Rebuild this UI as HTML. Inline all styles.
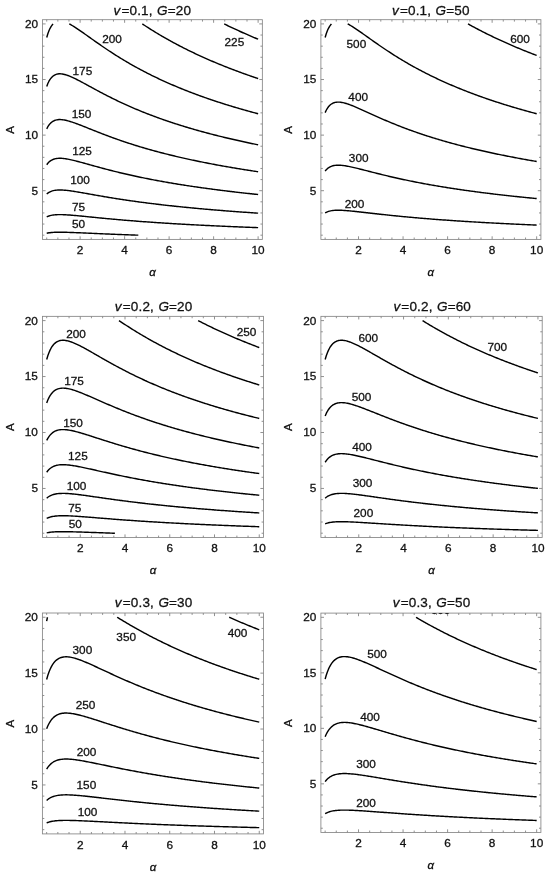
<!DOCTYPE html>
<html><head><meta charset="utf-8"><title>Contour plots</title>
<style>
html,body{margin:0;padding:0;background:#fff;}
body{width:550px;height:875px;overflow:hidden;}
svg{display:block;}
text{font-family:"Liberation Sans",sans-serif;fill:#111;stroke:#111;stroke-width:0.3px;}
.t{font-size:11.8px;}
.l{font-size:11.8px;}
.ax{font-size:11.5px;}
.ti{font-size:13.5px;letter-spacing:0.16px;}
</style></head><body>
<svg width="550" height="875" viewBox="0 0 550 875">
<rect width="550" height="875" fill="#fff"/>
<rect x="42.50" y="19.70" width="219.85" height="219.70" fill="none" stroke="#858585" stroke-width="0.85"/>
<path d="M46.73,239.40v-1.9M46.73,19.70v1.9M57.85,239.40v-1.9M57.85,19.70v1.9M68.98,239.40v-1.9M68.98,19.70v1.9M80.11,239.40v-3.1M80.11,19.70v3.1M91.23,239.40v-1.9M91.23,19.70v1.9M102.36,239.40v-1.9M102.36,19.70v1.9M113.48,239.40v-1.9M113.48,19.70v1.9M124.61,239.40v-3.1M124.61,19.70v3.1M135.74,239.40v-1.9M135.74,19.70v1.9M146.86,239.40v-1.9M146.86,19.70v1.9M157.99,239.40v-1.9M157.99,19.70v1.9M169.11,239.40v-3.1M169.11,19.70v3.1M180.24,239.40v-1.9M180.24,19.70v1.9M191.37,239.40v-1.9M191.37,19.70v1.9M202.49,239.40v-1.9M202.49,19.70v1.9M213.62,239.40v-3.1M213.62,19.70v3.1M224.74,239.40v-1.9M224.74,19.70v1.9M235.87,239.40v-1.9M235.87,19.70v1.9M247.00,239.40v-1.9M247.00,19.70v1.9M258.12,239.40v-3.1M258.12,19.70v3.1M42.50,235.18h1.9M262.35,235.18h-1.9M42.50,224.06h1.9M262.35,224.06h-1.9M42.50,212.94h1.9M262.35,212.94h-1.9M42.50,201.82h1.9M262.35,201.82h-1.9M42.50,190.70h3.1M262.35,190.70h-3.1M42.50,179.58h1.9M262.35,179.58h-1.9M42.50,168.46h1.9M262.35,168.46h-1.9M42.50,157.35h1.9M262.35,157.35h-1.9M42.50,146.23h1.9M262.35,146.23h-1.9M42.50,135.11h3.1M262.35,135.11h-3.1M42.50,123.99h1.9M262.35,123.99h-1.9M42.50,112.87h1.9M262.35,112.87h-1.9M42.50,101.75h1.9M262.35,101.75h-1.9M42.50,90.64h1.9M262.35,90.64h-1.9M42.50,79.52h3.1M262.35,79.52h-3.1M42.50,68.40h1.9M262.35,68.40h-1.9M42.50,57.28h1.9M262.35,57.28h-1.9M42.50,46.16h1.9M262.35,46.16h-1.9M42.50,35.04h1.9M262.35,35.04h-1.9M42.50,23.92h3.1M262.35,23.92h-3.1" stroke="#858585" stroke-width="0.9" fill="none"/>
<text x="80.11" y="254.20" text-anchor="middle" class="t">2</text>
<text x="124.61" y="254.20" text-anchor="middle" class="t">4</text>
<text x="169.11" y="254.20" text-anchor="middle" class="t">6</text>
<text x="213.62" y="254.20" text-anchor="middle" class="t">8</text>
<text x="258.12" y="254.20" text-anchor="middle" class="t">10</text>
<text x="38.00" y="194.60" text-anchor="end" class="t">5</text>
<text x="38.00" y="139.01" text-anchor="end" class="t">10</text>
<text x="38.00" y="83.42" text-anchor="end" class="t">15</text>
<text x="38.00" y="27.82" text-anchor="end" class="t">20</text>
<text x="152.43" y="276.00" text-anchor="middle" class="ax"><tspan font-style="italic">α</tspan></text>
<text transform="translate(13.90,129.85) rotate(-90)" text-anchor="middle" class="ax">A</text>
<text x="113.53" y="14.50" class="ti" style="white-space:pre"><tspan font-style="italic">v</tspan><tspan dx="1.0">=0.1, </tspan><tspan font-style="italic" dx="0.5">G</tspan>=20</text>
<clipPath id="c140495927561024"><rect x="42.50" y="19.70" width="219.85" height="219.70"/></clipPath>
<g fill="none" stroke="#000" stroke-width="1.42" stroke-linecap="butt" stroke-linejoin="round">
<path d="M46.73,233.24 L47.84,233.01 L48.95,232.82 L50.07,232.67 L51.18,232.55 L52.29,232.45 L53.40,232.37 L54.52,232.32 L55.63,232.27 L56.74,232.24 L57.85,232.22 L58.97,232.21 L60.08,232.21 L61.19,232.22 L62.30,232.23 L63.42,232.25 L64.53,232.27 L65.64,232.29 L66.75,232.32 L67.87,232.35 L68.98,232.39 L70.09,232.42 L71.21,232.46 L72.32,232.50 L73.43,232.54 L74.54,232.59 L75.66,232.63 L76.77,232.68 L77.88,232.72 L78.99,232.77 L80.11,232.82 L81.22,232.87 L82.33,232.91 L83.44,232.96 L84.56,233.01 L85.67,233.06 L86.78,233.11 L87.89,233.16 L89.01,233.21 L90.12,233.26 L91.23,233.31 L92.34,233.36 L93.46,233.41 L94.57,233.46 L95.68,233.51 L96.79,233.56 L97.91,233.60 L99.02,233.65 L100.13,233.70 L101.25,233.75 L102.36,233.80 L103.47,233.84 L104.58,233.89 L105.70,233.94 L106.81,233.98 L107.92,234.03 L109.03,234.08 L110.15,234.12 L111.26,234.17 L112.37,234.21 L113.48,234.26 L114.60,234.30 L115.71,234.35 L116.82,234.39 L117.93,234.43 L119.05,234.48 L120.16,234.52 L121.27,234.56 L122.38,234.61 L123.50,234.65 L124.61,234.69 L125.72,234.73 L126.84,234.77 L127.95,234.81 L129.06,234.85 L130.17,234.89 L131.29,234.93 L132.40,234.97 L133.51,235.01 L134.62,235.05 L135.74,235.09 L136.85,235.13 L137.96,235.16 L138.27,235.18"/>
<path d="M46.73,216.92 L47.84,216.40 L48.95,215.98 L50.07,215.64 L51.18,215.36 L52.29,215.15 L53.40,214.98 L54.52,214.85 L55.63,214.75 L56.74,214.68 L57.85,214.64 L58.97,214.62 L60.08,214.61 L61.19,214.62 L62.30,214.65 L63.42,214.69 L64.53,214.73 L65.64,214.79 L66.75,214.85 L67.87,214.93 L68.98,215.00 L70.09,215.08 L71.21,215.17 L72.32,215.26 L73.43,215.36 L74.54,215.45 L75.66,215.55 L76.77,215.66 L77.88,215.76 L78.99,215.87 L80.11,215.97 L81.22,216.08 L82.33,216.19 L83.44,216.30 L84.56,216.41 L85.67,216.52 L86.78,216.63 L87.89,216.74 L89.01,216.86 L90.12,216.97 L91.23,217.08 L92.34,217.19 L93.46,217.30 L94.57,217.41 L95.68,217.52 L96.79,217.63 L97.91,217.74 L99.02,217.85 L100.13,217.96 L101.25,218.07 L102.36,218.18 L103.47,218.28 L104.58,218.39 L105.70,218.49 L106.81,218.60 L107.92,218.70 L109.03,218.81 L110.15,218.91 L111.26,219.01 L112.37,219.11 L113.48,219.21 L114.60,219.31 L115.71,219.41 L116.82,219.51 L117.93,219.61 L119.05,219.71 L120.16,219.80 L121.27,219.90 L122.38,220.00 L123.50,220.09 L124.61,220.18 L125.72,220.28 L126.84,220.37 L127.95,220.46 L129.06,220.55 L130.17,220.64 L131.29,220.73 L132.40,220.82 L133.51,220.91 L134.62,221.00 L135.74,221.08 L136.85,221.17 L137.96,221.25 L139.07,221.34 L140.19,221.42 L141.30,221.51 L142.41,221.59 L143.52,221.67 L144.64,221.75 L145.75,221.83 L146.86,221.91 L147.97,221.99 L149.09,222.07 L150.20,222.15 L151.31,222.23 L152.43,222.31 L153.54,222.38 L154.65,222.46 L155.76,222.53 L156.88,222.61 L157.99,222.68 L159.10,222.76 L160.21,222.83 L161.33,222.90 L162.44,222.97 L163.55,223.05 L164.66,223.12 L165.78,223.19 L166.89,223.26 L168.00,223.33 L169.11,223.40 L170.23,223.47 L171.34,223.53 L172.45,223.60 L173.56,223.67 L174.68,223.73 L175.79,223.80 L176.90,223.87 L178.01,223.93 L179.13,224.00 L180.24,224.06 L181.35,224.12 L182.47,224.19 L183.58,224.25 L184.69,224.31 L185.80,224.37 L186.92,224.44 L188.03,224.50 L189.14,224.56 L190.25,224.62 L191.37,224.68 L192.48,224.74 L193.59,224.80 L194.70,224.86 L195.82,224.91 L196.93,224.97 L198.04,225.03 L199.15,225.09 L200.27,225.14 L201.38,225.20 L202.49,225.26 L203.60,225.31 L204.72,225.37 L205.83,225.42 L206.94,225.48 L208.06,225.53 L209.17,225.58 L210.28,225.64 L211.39,225.69 L212.51,225.74 L213.62,225.80 L214.73,225.85 L215.84,225.90 L216.96,225.95 L218.07,226.00 L219.18,226.05 L220.29,226.10 L221.41,226.16 L222.52,226.21 L223.63,226.25 L224.74,226.30 L225.86,226.35 L226.97,226.40 L228.08,226.45 L229.19,226.50 L230.31,226.55 L231.42,226.59 L232.53,226.64 L233.64,226.69 L234.76,226.73 L235.87,226.78 L236.98,226.83 L238.10,226.87 L239.21,226.92 L240.32,226.96 L241.43,227.01 L242.55,227.05 L243.66,227.10 L244.77,227.14 L245.88,227.19 L247.00,227.23 L248.11,227.27 L249.22,227.32 L250.33,227.36 L251.45,227.40 L252.56,227.45 L253.67,227.49 L254.78,227.53 L255.90,227.57 L257.01,227.61 L258.12,227.66"/>
<path d="M46.73,194.08 L47.84,193.15 L48.95,192.40 L50.07,191.79 L51.18,191.30 L52.29,190.92 L53.40,190.62 L54.52,190.39 L55.63,190.21 L56.74,190.09 L57.85,190.02 L58.97,189.98 L60.08,189.97 L61.19,189.99 L62.30,190.04 L63.42,190.10 L64.53,190.19 L65.64,190.29 L66.75,190.40 L67.87,190.53 L68.98,190.66 L70.09,190.81 L71.21,190.97 L72.32,191.13 L73.43,191.30 L74.54,191.47 L75.66,191.65 L76.77,191.83 L77.88,192.01 L78.99,192.20 L80.11,192.39 L81.22,192.58 L82.33,192.78 L83.44,192.97 L84.56,193.17 L85.67,193.37 L86.78,193.56 L87.89,193.76 L89.01,193.96 L90.12,194.16 L91.23,194.36 L92.34,194.55 L93.46,194.75 L94.57,194.95 L95.68,195.15 L96.79,195.34 L97.91,195.54 L99.02,195.73 L100.13,195.92 L101.25,196.11 L102.36,196.31 L103.47,196.50 L104.58,196.68 L105.70,196.87 L106.81,197.06 L107.92,197.24 L109.03,197.43 L110.15,197.61 L111.26,197.79 L112.37,197.97 L113.48,198.15 L114.60,198.33 L115.71,198.51 L116.82,198.68 L117.93,198.86 L119.05,199.03 L120.16,199.20 L121.27,199.37 L122.38,199.54 L123.50,199.71 L124.61,199.88 L125.72,200.04 L126.84,200.21 L127.95,200.37 L129.06,200.53 L130.17,200.69 L131.29,200.85 L132.40,201.01 L133.51,201.16 L134.62,201.32 L135.74,201.47 L136.85,201.63 L137.96,201.78 L139.07,201.93 L140.19,202.08 L141.30,202.23 L142.41,202.37 L143.52,202.52 L144.64,202.66 L145.75,202.81 L146.86,202.95 L147.97,203.09 L149.09,203.23 L150.20,203.37 L151.31,203.51 L152.43,203.65 L153.54,203.78 L154.65,203.92 L155.76,204.05 L156.88,204.19 L157.99,204.32 L159.10,204.45 L160.21,204.58 L161.33,204.71 L162.44,204.84 L163.55,204.97 L164.66,205.09 L165.78,205.22 L166.89,205.34 L168.00,205.47 L169.11,205.59 L170.23,205.71 L171.34,205.83 L172.45,205.95 L173.56,206.07 L174.68,206.19 L175.79,206.31 L176.90,206.42 L178.01,206.54 L179.13,206.65 L180.24,206.77 L181.35,206.88 L182.47,206.99 L183.58,207.11 L184.69,207.22 L185.80,207.33 L186.92,207.44 L188.03,207.55 L189.14,207.65 L190.25,207.76 L191.37,207.87 L192.48,207.97 L193.59,208.08 L194.70,208.18 L195.82,208.29 L196.93,208.39 L198.04,208.49 L199.15,208.59 L200.27,208.69 L201.38,208.79 L202.49,208.89 L203.60,208.99 L204.72,209.09 L205.83,209.19 L206.94,209.29 L208.06,209.38 L209.17,209.48 L210.28,209.57 L211.39,209.67 L212.51,209.76 L213.62,209.85 L214.73,209.95 L215.84,210.04 L216.96,210.13 L218.07,210.22 L219.18,210.31 L220.29,210.40 L221.41,210.49 L222.52,210.58 L223.63,210.67 L224.74,210.76 L225.86,210.84 L226.97,210.93 L228.08,211.02 L229.19,211.10 L230.31,211.19 L231.42,211.27 L232.53,211.36 L233.64,211.44 L234.76,211.52 L235.87,211.61 L236.98,211.69 L238.10,211.77 L239.21,211.85 L240.32,211.93 L241.43,212.01 L242.55,212.09 L243.66,212.17 L244.77,212.25 L245.88,212.33 L247.00,212.41 L248.11,212.48 L249.22,212.56 L250.33,212.64 L251.45,212.71 L252.56,212.79 L253.67,212.86 L254.78,212.94 L255.90,213.01 L257.01,213.09 L258.12,213.16"/>
<path d="M46.73,164.71 L47.84,163.25 L48.95,162.08 L50.07,161.13 L51.18,160.37 L52.29,159.77 L53.40,159.30 L54.52,158.94 L55.63,158.67 L56.74,158.48 L57.85,158.36 L58.97,158.30 L60.08,158.29 L61.19,158.32 L62.30,158.39 L63.42,158.49 L64.53,158.63 L65.64,158.78 L66.75,158.96 L67.87,159.16 L68.98,159.37 L70.09,159.60 L71.21,159.84 L72.32,160.10 L73.43,160.36 L74.54,160.63 L75.66,160.91 L76.77,161.19 L77.88,161.48 L78.99,161.77 L80.11,162.07 L81.22,162.37 L82.33,162.68 L83.44,162.98 L84.56,163.29 L85.67,163.60 L86.78,163.90 L87.89,164.21 L89.01,164.52 L90.12,164.83 L91.23,165.14 L92.34,165.45 L93.46,165.76 L94.57,166.07 L95.68,166.37 L96.79,166.68 L97.91,166.98 L99.02,167.29 L100.13,167.59 L101.25,167.89 L102.36,168.19 L103.47,168.48 L104.58,168.78 L105.70,169.07 L106.81,169.36 L107.92,169.65 L109.03,169.94 L110.15,170.23 L111.26,170.51 L112.37,170.79 L113.48,171.07 L114.60,171.35 L115.71,171.63 L116.82,171.90 L117.93,172.18 L119.05,172.45 L120.16,172.71 L121.27,172.98 L122.38,173.24 L123.50,173.51 L124.61,173.77 L125.72,174.03 L126.84,174.28 L127.95,174.54 L129.06,174.79 L130.17,175.04 L131.29,175.29 L132.40,175.53 L133.51,175.78 L134.62,176.02 L135.74,176.26 L136.85,176.50 L137.96,176.74 L139.07,176.97 L140.19,177.21 L141.30,177.44 L142.41,177.67 L143.52,177.90 L144.64,178.12 L145.75,178.35 L146.86,178.57 L147.97,178.79 L149.09,179.01 L150.20,179.23 L151.31,179.45 L152.43,179.66 L153.54,179.87 L154.65,180.08 L155.76,180.29 L156.88,180.50 L157.99,180.71 L159.10,180.91 L160.21,181.12 L161.33,181.32 L162.44,181.52 L163.55,181.72 L164.66,181.92 L165.78,182.11 L166.89,182.31 L168.00,182.50 L169.11,182.69 L170.23,182.88 L171.34,183.07 L172.45,183.26 L173.56,183.44 L174.68,183.63 L175.79,183.81 L176.90,184.00 L178.01,184.18 L179.13,184.36 L180.24,184.53 L181.35,184.71 L182.47,184.89 L183.58,185.06 L184.69,185.24 L185.80,185.41 L186.92,185.58 L188.03,185.75 L189.14,185.92 L190.25,186.09 L191.37,186.25 L192.48,186.42 L193.59,186.58 L194.70,186.74 L195.82,186.91 L196.93,187.07 L198.04,187.23 L199.15,187.39 L200.27,187.54 L201.38,187.70 L202.49,187.86 L203.60,188.01 L204.72,188.16 L205.83,188.32 L206.94,188.47 L208.06,188.62 L209.17,188.77 L210.28,188.92 L211.39,189.07 L212.51,189.21 L213.62,189.36 L214.73,189.50 L215.84,189.65 L216.96,189.79 L218.07,189.93 L219.18,190.07 L220.29,190.21 L221.41,190.35 L222.52,190.49 L223.63,190.63 L224.74,190.77 L225.86,190.90 L226.97,191.04 L228.08,191.17 L229.19,191.31 L230.31,191.44 L231.42,191.57 L232.53,191.70 L233.64,191.83 L234.76,191.96 L235.87,192.09 L236.98,192.22 L238.10,192.35 L239.21,192.48 L240.32,192.60 L241.43,192.73 L242.55,192.85 L243.66,192.98 L244.77,193.10 L245.88,193.22 L247.00,193.34 L248.11,193.46 L249.22,193.58 L250.33,193.70 L251.45,193.82 L252.56,193.94 L253.67,194.06 L254.78,194.18 L255.90,194.29 L257.01,194.41 L258.12,194.52"/>
<path d="M46.73,128.81 L47.84,126.72 L48.95,125.02 L50.07,123.66 L51.18,122.57 L52.29,121.70 L53.40,121.02 L54.52,120.50 L55.63,120.11 L56.74,119.84 L57.85,119.67 L58.97,119.58 L60.08,119.56 L61.19,119.61 L62.30,119.71 L63.42,119.86 L64.53,120.05 L65.64,120.28 L66.75,120.54 L67.87,120.82 L68.98,121.13 L70.09,121.46 L71.21,121.81 L72.32,122.17 L73.43,122.55 L74.54,122.94 L75.66,123.34 L76.77,123.75 L77.88,124.16 L78.99,124.59 L80.11,125.01 L81.22,125.45 L82.33,125.88 L83.44,126.32 L84.56,126.77 L85.67,127.21 L86.78,127.65 L87.89,128.10 L89.01,128.55 L90.12,128.99 L91.23,129.44 L92.34,129.88 L93.46,130.33 L94.57,130.77 L95.68,131.21 L96.79,131.65 L97.91,132.09 L99.02,132.52 L100.13,132.96 L101.25,133.39 L102.36,133.82 L103.47,134.25 L104.58,134.67 L105.70,135.10 L106.81,135.52 L107.92,135.93 L109.03,136.35 L110.15,136.76 L111.26,137.17 L112.37,137.58 L113.48,137.98 L114.60,138.38 L115.71,138.78 L116.82,139.17 L117.93,139.56 L119.05,139.95 L120.16,140.34 L121.27,140.72 L122.38,141.10 L123.50,141.48 L124.61,141.86 L125.72,142.23 L126.84,142.60 L127.95,142.96 L129.06,143.33 L130.17,143.69 L131.29,144.04 L132.40,144.40 L133.51,144.75 L134.62,145.10 L135.74,145.45 L136.85,145.79 L137.96,146.13 L139.07,146.47 L140.19,146.81 L141.30,147.14 L142.41,147.47 L143.52,147.80 L144.64,148.13 L145.75,148.45 L146.86,148.77 L147.97,149.09 L149.09,149.41 L150.20,149.72 L151.31,150.03 L152.43,150.34 L153.54,150.65 L154.65,150.95 L155.76,151.25 L156.88,151.55 L157.99,151.85 L159.10,152.15 L160.21,152.44 L161.33,152.73 L162.44,153.02 L163.55,153.31 L164.66,153.59 L165.78,153.87 L166.89,154.15 L168.00,154.43 L169.11,154.71 L170.23,154.98 L171.34,155.25 L172.45,155.52 L173.56,155.79 L174.68,156.06 L175.79,156.32 L176.90,156.58 L178.01,156.85 L179.13,157.10 L180.24,157.36 L181.35,157.62 L182.47,157.87 L183.58,158.12 L184.69,158.37 L185.80,158.62 L186.92,158.87 L188.03,159.11 L189.14,159.35 L190.25,159.59 L191.37,159.83 L192.48,160.07 L193.59,160.31 L194.70,160.54 L195.82,160.78 L196.93,161.01 L198.04,161.24 L199.15,161.47 L200.27,161.69 L201.38,161.92 L202.49,162.14 L203.60,162.37 L204.72,162.59 L205.83,162.81 L206.94,163.03 L208.06,163.24 L209.17,163.46 L210.28,163.67 L211.39,163.88 L212.51,164.10 L213.62,164.31 L214.73,164.52 L215.84,164.72 L216.96,164.93 L218.07,165.13 L219.18,165.34 L220.29,165.54 L221.41,165.74 L222.52,165.94 L223.63,166.14 L224.74,166.34 L225.86,166.53 L226.97,166.73 L228.08,166.92 L229.19,167.11 L230.31,167.31 L231.42,167.50 L232.53,167.68 L233.64,167.87 L234.76,168.06 L235.87,168.25 L236.98,168.43 L238.10,168.61 L239.21,168.80 L240.32,168.98 L241.43,169.16 L242.55,169.34 L243.66,169.52 L244.77,169.69 L245.88,169.87 L247.00,170.05 L248.11,170.22 L249.22,170.39 L250.33,170.57 L251.45,170.74 L252.56,170.91 L253.67,171.08 L254.78,171.25 L255.90,171.41 L257.01,171.58 L258.12,171.75"/>
<path d="M46.73,86.39 L47.84,83.54 L48.95,81.23 L50.07,79.38 L51.18,77.89 L52.29,76.71 L53.40,75.78 L54.52,75.08 L55.63,74.55 L56.74,74.18 L57.85,73.94 L58.97,73.82 L60.08,73.80 L61.19,73.86 L62.30,74.00 L63.42,74.20 L64.53,74.46 L65.64,74.77 L66.75,75.12 L67.87,75.51 L68.98,75.93 L70.09,76.38 L71.21,76.85 L72.32,77.35 L73.43,77.86 L74.54,78.39 L75.66,78.94 L76.77,79.49 L77.88,80.06 L78.99,80.64 L80.11,81.22 L81.22,81.81 L82.33,82.40 L83.44,83.00 L84.56,83.60 L85.67,84.21 L86.78,84.81 L87.89,85.42 L89.01,86.03 L90.12,86.63 L91.23,87.24 L92.34,87.84 L93.46,88.45 L94.57,89.05 L95.68,89.65 L96.79,90.25 L97.91,90.85 L99.02,91.44 L100.13,92.03 L101.25,92.62 L102.36,93.21 L103.47,93.79 L104.58,94.37 L105.70,94.94 L106.81,95.51 L107.92,96.08 L109.03,96.65 L110.15,97.21 L111.26,97.76 L112.37,98.32 L113.48,98.86 L114.60,99.41 L115.71,99.95 L116.82,100.49 L117.93,101.02 L119.05,101.55 L120.16,102.08 L121.27,102.60 L122.38,103.12 L123.50,103.63 L124.61,104.14 L125.72,104.65 L126.84,105.15 L127.95,105.65 L129.06,106.14 L130.17,106.63 L131.29,107.12 L132.40,107.60 L133.51,108.08 L134.62,108.56 L135.74,109.03 L136.85,109.50 L137.96,109.97 L139.07,110.43 L140.19,110.88 L141.30,111.34 L142.41,111.79 L143.52,112.24 L144.64,112.68 L145.75,113.12 L146.86,113.56 L147.97,113.99 L149.09,114.42 L150.20,114.85 L151.31,115.27 L152.43,115.69 L153.54,116.11 L154.65,116.52 L155.76,116.94 L156.88,117.34 L157.99,117.75 L159.10,118.15 L160.21,118.55 L161.33,118.94 L162.44,119.34 L163.55,119.73 L164.66,120.11 L165.78,120.50 L166.89,120.88 L168.00,121.26 L169.11,121.63 L170.23,122.01 L171.34,122.38 L172.45,122.75 L173.56,123.11 L174.68,123.47 L175.79,123.83 L176.90,124.19 L178.01,124.54 L179.13,124.90 L180.24,125.25 L181.35,125.59 L182.47,125.94 L183.58,126.28 L184.69,126.62 L185.80,126.96 L186.92,127.29 L188.03,127.63 L189.14,127.96 L190.25,128.29 L191.37,128.61 L192.48,128.94 L193.59,129.26 L194.70,129.58 L195.82,129.90 L196.93,130.21 L198.04,130.52 L199.15,130.83 L200.27,131.14 L201.38,131.45 L202.49,131.76 L203.60,132.06 L204.72,132.36 L205.83,132.66 L206.94,132.96 L208.06,133.25 L209.17,133.55 L210.28,133.84 L211.39,134.13 L212.51,134.41 L213.62,134.70 L214.73,134.98 L215.84,135.27 L216.96,135.55 L218.07,135.83 L219.18,136.10 L220.29,136.38 L221.41,136.65 L222.52,136.92 L223.63,137.19 L224.74,137.46 L225.86,137.73 L226.97,138.00 L228.08,138.26 L229.19,138.52 L230.31,138.78 L231.42,139.04 L232.53,139.30 L233.64,139.55 L234.76,139.81 L235.87,140.06 L236.98,140.31 L238.10,140.56 L239.21,140.81 L240.32,141.06 L241.43,141.30 L242.55,141.55 L243.66,141.79 L244.77,142.03 L245.88,142.27 L247.00,142.51 L248.11,142.75 L249.22,142.98 L250.33,143.22 L251.45,143.45 L252.56,143.68 L253.67,143.91 L254.78,144.14 L255.90,144.37 L257.01,144.60 L258.12,144.82"/>
<path d="M46.73,37.43 L47.84,33.71 L48.95,30.70 L50.07,28.28 L51.18,26.34 L52.29,24.80 L53.07,23.92"/>
<path d="M69.26,23.92 L70.32,24.49 L71.43,25.11 L72.54,25.76 L73.65,26.44 L74.77,27.14 L75.88,27.85 L76.99,28.58 L78.10,29.32 L79.22,30.08 L80.33,30.84 L81.44,31.61 L82.55,32.39 L83.67,33.17 L84.78,33.96 L85.89,34.75 L87.00,35.54 L88.12,36.33 L89.23,37.12 L90.34,37.91 L91.45,38.71 L92.57,39.50 L93.68,40.29 L94.79,41.07 L95.90,41.86 L97.02,42.64 L98.13,43.42 L99.24,44.19 L100.36,44.96 L101.47,45.73 L102.58,46.49 L103.69,47.25 L104.81,48.01 L105.92,48.76 L107.03,49.50 L108.14,50.25 L109.26,50.98 L110.37,51.71 L111.48,52.44 L112.59,53.16 L113.71,53.88 L114.82,54.59 L115.93,55.29 L117.04,55.99 L118.16,56.69 L119.27,57.38 L120.38,58.07 L121.49,58.75 L122.61,59.42 L123.72,60.09 L124.83,60.76 L125.95,61.42 L127.06,62.07 L128.17,62.72 L129.28,63.37 L130.40,64.01 L131.51,64.64 L132.62,65.27 L133.73,65.90 L134.85,66.52 L135.96,67.14 L137.07,67.75 L138.18,68.35 L139.30,68.96 L140.41,69.55 L141.52,70.14 L142.63,70.73 L143.75,71.32 L144.86,71.89 L145.97,72.47 L147.08,73.04 L148.20,73.60 L149.31,74.16 L150.42,74.72 L151.53,75.27 L152.65,75.82 L153.76,76.37 L154.87,76.91 L155.99,77.44 L157.10,77.97 L158.21,78.50 L159.32,79.03 L160.44,79.55 L161.55,80.06 L162.66,80.57 L163.77,81.08 L164.89,81.59 L166.00,82.09 L167.11,82.59 L168.22,83.08 L169.34,83.57 L170.45,84.06 L171.56,84.54 L172.67,85.02 L173.79,85.50 L174.90,85.97 L176.01,86.44 L177.12,86.90 L178.24,87.37 L179.35,87.83 L180.46,88.28 L181.58,88.73 L182.69,89.18 L183.80,89.63 L184.91,90.07 L186.03,90.52 L187.14,90.95 L188.25,91.39 L189.36,91.82 L190.48,92.25 L191.59,92.67 L192.70,93.09 L193.81,93.51 L194.93,93.93 L196.04,94.35 L197.15,94.76 L198.26,95.17 L199.38,95.57 L200.49,95.97 L201.60,96.38 L202.71,96.77 L203.83,97.17 L204.94,97.56 L206.05,97.95 L207.16,98.34 L208.28,98.72 L209.39,99.11 L210.50,99.49 L211.62,99.86 L212.73,100.24 L213.84,100.61 L214.95,100.98 L216.07,101.35 L217.18,101.72 L218.29,102.08 L219.40,102.44 L220.52,102.80 L221.63,103.16 L222.74,103.51 L223.85,103.87 L224.97,104.22 L226.08,104.57 L227.19,104.91 L228.30,105.26 L229.42,105.60 L230.53,105.94 L231.64,106.28 L232.75,106.61 L233.87,106.95 L234.98,107.28 L236.09,107.61 L237.21,107.94 L238.32,108.26 L239.43,108.59 L240.54,108.91 L241.66,109.23 L242.77,109.55 L243.88,109.86 L244.99,110.18 L246.11,110.49 L247.22,110.80 L248.33,111.11 L249.44,111.42 L250.56,111.73 L251.67,112.03 L252.78,112.33 L253.89,112.63 L255.01,112.93 L256.12,113.23 L257.23,113.53 L258.12,113.76"/>
<path d="M142.37,23.92 L143.30,24.54 L144.41,25.28 L145.53,26.01 L146.64,26.73 L147.75,27.45 L148.86,28.16 L149.98,28.87 L151.09,29.57 L152.20,30.26 L153.32,30.95 L154.43,31.64 L155.54,32.32 L156.65,33.00 L157.77,33.67 L158.88,34.33 L159.99,34.99 L161.10,35.65 L162.22,36.30 L163.33,36.94 L164.44,37.58 L165.55,38.22 L166.67,38.85 L167.78,39.48 L168.89,40.10 L170.00,40.72 L171.12,41.33 L172.23,41.94 L173.34,42.54 L174.45,43.14 L175.57,43.74 L176.68,44.33 L177.79,44.92 L178.90,45.50 L180.02,46.08 L181.13,46.65 L182.24,47.23 L183.36,47.79 L184.47,48.35 L185.58,48.91 L186.69,49.47 L187.81,50.02 L188.92,50.57 L190.03,51.11 L191.14,51.65 L192.26,52.19 L193.37,52.72 L194.48,53.25 L195.59,53.78 L196.71,54.30 L197.82,54.82 L198.93,55.33 L200.04,55.84 L201.16,56.35 L202.27,56.86 L203.38,57.36 L204.49,57.86 L205.61,58.35 L206.72,58.84 L207.83,59.33 L208.95,59.82 L210.06,60.30 L211.17,60.78 L212.28,61.25 L213.40,61.73 L214.51,62.20 L215.62,62.67 L216.73,63.13 L217.85,63.59 L218.96,64.05 L220.07,64.51 L221.18,64.96 L222.30,65.41 L223.41,65.86 L224.52,66.30 L225.63,66.74 L226.75,67.18 L227.86,67.62 L228.97,68.05 L230.08,68.48 L231.20,68.91 L232.31,69.34 L233.42,69.76 L234.53,70.18 L235.65,70.60 L236.76,71.02 L237.87,71.43 L238.99,71.84 L240.10,72.25 L241.21,72.66 L242.32,73.06 L243.44,73.46 L244.55,73.86 L245.66,74.26 L246.77,74.66 L247.89,75.05 L249.00,75.44 L250.11,75.83 L251.22,76.21 L252.34,76.60 L253.45,76.98 L254.56,77.36 L255.67,77.74 L256.79,78.11 L257.90,78.49 L258.12,78.56"/>
<path d="M224.21,23.92 L225.19,24.41 L226.30,24.95 L227.41,25.49 L228.53,26.03 L229.64,26.56 L230.75,27.09 L231.86,27.62 L232.98,28.15 L234.09,28.67 L235.20,29.18 L236.32,29.70 L237.43,30.21 L238.54,30.72 L239.65,31.23 L240.77,31.73 L241.88,32.23 L242.99,32.73 L244.10,33.22 L245.22,33.71 L246.33,34.20 L247.44,34.69 L248.55,35.17 L249.67,35.65 L250.78,36.13 L251.89,36.60 L253.00,37.08 L254.12,37.55 L255.23,38.01 L256.34,38.48 L257.45,38.94 L258.12,39.21"/>
</g>
<g clip-path="url(#c140495927561024)">
<text x="112.00" y="42.90" text-anchor="middle" class="l">200</text>
<text x="82.40" y="75.20" text-anchor="middle" class="l">175</text>
<text x="81.60" y="118.10" text-anchor="middle" class="l">150</text>
<text x="82.00" y="154.70" text-anchor="middle" class="l">125</text>
<text x="80.00" y="183.70" text-anchor="middle" class="l">100</text>
<text x="78.60" y="210.80" text-anchor="middle" class="l">75</text>
<text x="78.60" y="227.70" text-anchor="middle" class="l">50</text>
<text x="234.40" y="46.30" text-anchor="middle" class="l">225</text>
</g>
<rect x="320.90" y="19.70" width="220.00" height="219.70" fill="none" stroke="#858585" stroke-width="0.85"/>
<path d="M325.13,239.40v-1.9M325.13,19.70v1.9M336.26,239.40v-1.9M336.26,19.70v1.9M347.40,239.40v-1.9M347.40,19.70v1.9M358.53,239.40v-3.1M358.53,19.70v3.1M369.67,239.40v-1.9M369.67,19.70v1.9M380.80,239.40v-1.9M380.80,19.70v1.9M391.93,239.40v-1.9M391.93,19.70v1.9M403.07,239.40v-3.1M403.07,19.70v3.1M414.20,239.40v-1.9M414.20,19.70v1.9M425.33,239.40v-1.9M425.33,19.70v1.9M436.47,239.40v-1.9M436.47,19.70v1.9M447.60,239.40v-3.1M447.60,19.70v3.1M458.73,239.40v-1.9M458.73,19.70v1.9M469.87,239.40v-1.9M469.87,19.70v1.9M481.00,239.40v-1.9M481.00,19.70v1.9M492.13,239.40v-3.1M492.13,19.70v3.1M503.27,239.40v-1.9M503.27,19.70v1.9M514.40,239.40v-1.9M514.40,19.70v1.9M525.54,239.40v-1.9M525.54,19.70v1.9M536.67,239.40v-3.1M536.67,19.70v3.1M320.90,235.18h1.9M540.90,235.18h-1.9M320.90,224.06h1.9M540.90,224.06h-1.9M320.90,212.94h1.9M540.90,212.94h-1.9M320.90,201.82h1.9M540.90,201.82h-1.9M320.90,190.70h3.1M540.90,190.70h-3.1M320.90,179.58h1.9M540.90,179.58h-1.9M320.90,168.46h1.9M540.90,168.46h-1.9M320.90,157.35h1.9M540.90,157.35h-1.9M320.90,146.23h1.9M540.90,146.23h-1.9M320.90,135.11h3.1M540.90,135.11h-3.1M320.90,123.99h1.9M540.90,123.99h-1.9M320.90,112.87h1.9M540.90,112.87h-1.9M320.90,101.75h1.9M540.90,101.75h-1.9M320.90,90.64h1.9M540.90,90.64h-1.9M320.90,79.52h3.1M540.90,79.52h-3.1M320.90,68.40h1.9M540.90,68.40h-1.9M320.90,57.28h1.9M540.90,57.28h-1.9M320.90,46.16h1.9M540.90,46.16h-1.9M320.90,35.04h1.9M540.90,35.04h-1.9M320.90,23.92h3.1M540.90,23.92h-3.1" stroke="#858585" stroke-width="0.9" fill="none"/>
<text x="358.53" y="254.20" text-anchor="middle" class="t">2</text>
<text x="403.07" y="254.20" text-anchor="middle" class="t">4</text>
<text x="447.60" y="254.20" text-anchor="middle" class="t">6</text>
<text x="492.13" y="254.20" text-anchor="middle" class="t">8</text>
<text x="536.67" y="254.20" text-anchor="middle" class="t">10</text>
<text x="316.40" y="194.60" text-anchor="end" class="t">5</text>
<text x="316.40" y="139.01" text-anchor="end" class="t">10</text>
<text x="316.40" y="83.42" text-anchor="end" class="t">15</text>
<text x="316.40" y="27.82" text-anchor="end" class="t">20</text>
<text x="430.90" y="276.00" text-anchor="middle" class="ax"><tspan font-style="italic">α</tspan></text>
<text transform="translate(292.30,129.85) rotate(-90)" text-anchor="middle" class="ax">A</text>
<text x="392.00" y="14.50" class="ti" style="white-space:pre"><tspan font-style="italic">v</tspan><tspan dx="1.0">=0.1, </tspan><tspan font-style="italic" dx="0.5">G</tspan>=50</text>
<clipPath id="c140495922607680"><rect x="320.90" y="19.70" width="220.00" height="219.70"/></clipPath>
<g fill="none" stroke="#000" stroke-width="1.42" stroke-linecap="butt" stroke-linejoin="round">
<path d="M325.13,212.88 L326.24,212.28 L327.36,211.80 L328.47,211.41 L329.58,211.10 L330.70,210.85 L331.81,210.66 L332.92,210.51 L334.04,210.40 L335.15,210.33 L336.26,210.28 L337.38,210.25 L338.49,210.25 L339.60,210.26 L340.72,210.29 L341.83,210.33 L342.94,210.38 L344.06,210.45 L345.17,210.52 L346.28,210.60 L347.40,210.69 L348.51,210.79 L349.62,210.88 L350.74,210.99 L351.85,211.10 L352.96,211.21 L354.08,211.32 L355.19,211.44 L356.30,211.55 L357.42,211.67 L358.53,211.80 L359.64,211.92 L360.76,212.04 L361.87,212.17 L362.99,212.29 L364.10,212.42 L365.21,212.55 L366.33,212.67 L367.44,212.80 L368.55,212.93 L369.67,213.05 L370.78,213.18 L371.89,213.31 L373.01,213.43 L374.12,213.56 L375.23,213.68 L376.35,213.81 L377.46,213.93 L378.57,214.06 L379.69,214.18 L380.80,214.30 L381.91,214.42 L383.03,214.54 L384.14,214.66 L385.25,214.78 L386.37,214.90 L387.48,215.02 L388.59,215.14 L389.71,215.25 L390.82,215.37 L391.93,215.48 L393.05,215.60 L394.16,215.71 L395.27,215.82 L396.39,215.93 L397.50,216.05 L398.61,216.16 L399.73,216.26 L400.84,216.37 L401.95,216.48 L403.07,216.59 L404.18,216.69 L405.29,216.80 L406.41,216.90 L407.52,217.00 L408.63,217.11 L409.75,217.21 L410.86,217.31 L411.97,217.41 L413.09,217.51 L414.20,217.61 L415.31,217.71 L416.43,217.80 L417.54,217.90 L418.65,218.00 L419.77,218.09 L420.88,218.18 L421.99,218.28 L423.11,218.37 L424.22,218.46 L425.33,218.55 L426.45,218.64 L427.56,218.73 L428.67,218.82 L429.79,218.91 L430.90,219.00 L432.01,219.09 L433.13,219.17 L434.24,219.26 L435.35,219.35 L436.47,219.43 L437.58,219.51 L438.69,219.60 L439.81,219.68 L440.92,219.76 L442.03,219.84 L443.15,219.92 L444.26,220.00 L445.37,220.08 L446.49,220.16 L447.60,220.24 L448.71,220.32 L449.83,220.40 L450.94,220.47 L452.05,220.55 L453.17,220.63 L454.28,220.70 L455.39,220.78 L456.51,220.85 L457.62,220.92 L458.73,221.00 L459.85,221.07 L460.96,221.14 L462.07,221.21 L463.19,221.28 L464.30,221.35 L465.41,221.42 L466.53,221.49 L467.64,221.56 L468.75,221.63 L469.87,221.70 L470.98,221.77 L472.09,221.84 L473.21,221.90 L474.32,221.97 L475.43,222.03 L476.55,222.10 L477.66,222.16 L478.77,222.23 L479.89,222.29 L481.00,222.36 L482.11,222.42 L483.23,222.48 L484.34,222.55 L485.45,222.61 L486.57,222.67 L487.68,222.73 L488.79,222.79 L489.91,222.85 L491.02,222.91 L492.13,222.97 L493.25,223.03 L494.36,223.09 L495.47,223.15 L496.59,223.21 L497.70,223.27 L498.81,223.32 L499.93,223.38 L501.04,223.44 L502.16,223.49 L503.27,223.55 L504.38,223.61 L505.50,223.66 L506.61,223.72 L507.72,223.77 L508.84,223.83 L509.95,223.88 L511.06,223.93 L512.18,223.99 L513.29,224.04 L514.40,224.09 L515.52,224.15 L516.63,224.20 L517.74,224.25 L518.86,224.30 L519.97,224.35 L521.08,224.40 L522.20,224.45 L523.31,224.51 L524.42,224.56 L525.54,224.61 L526.65,224.65 L527.76,224.70 L528.88,224.75 L529.99,224.80 L531.10,224.85 L532.22,224.90 L533.33,224.95 L534.44,224.99 L535.56,225.04 L536.67,225.09"/>
<path d="M325.13,171.10 L326.24,169.76 L327.36,168.68 L328.47,167.81 L329.58,167.11 L330.70,166.55 L331.81,166.12 L332.92,165.79 L334.04,165.54 L335.15,165.36 L336.26,165.25 L337.38,165.20 L338.49,165.19 L339.60,165.22 L340.72,165.28 L341.83,165.38 L342.94,165.50 L344.06,165.64 L345.17,165.81 L346.28,165.99 L347.40,166.19 L348.51,166.40 L349.62,166.62 L350.74,166.86 L351.85,167.10 L352.96,167.35 L354.08,167.60 L355.19,167.86 L356.30,168.13 L357.42,168.40 L358.53,168.68 L359.64,168.95 L360.76,169.23 L361.87,169.51 L362.99,169.80 L364.10,170.08 L365.21,170.36 L366.33,170.65 L367.44,170.93 L368.55,171.22 L369.67,171.51 L370.78,171.79 L371.89,172.07 L373.01,172.36 L374.12,172.64 L375.23,172.92 L376.35,173.20 L377.46,173.48 L378.57,173.76 L379.69,174.04 L380.80,174.31 L381.91,174.58 L383.03,174.86 L384.14,175.13 L385.25,175.40 L386.37,175.66 L387.48,175.93 L388.59,176.19 L389.71,176.45 L390.82,176.71 L391.93,176.97 L393.05,177.23 L394.16,177.48 L395.27,177.74 L396.39,177.99 L397.50,178.24 L398.61,178.48 L399.73,178.73 L400.84,178.97 L401.95,179.21 L403.07,179.45 L404.18,179.69 L405.29,179.93 L406.41,180.16 L407.52,180.39 L408.63,180.63 L409.75,180.85 L410.86,181.08 L411.97,181.31 L413.09,181.53 L414.20,181.75 L415.31,181.97 L416.43,182.19 L417.54,182.41 L418.65,182.62 L419.77,182.84 L420.88,183.05 L421.99,183.26 L423.11,183.47 L424.22,183.68 L425.33,183.88 L426.45,184.08 L427.56,184.29 L428.67,184.49 L429.79,184.69 L430.90,184.88 L432.01,185.08 L433.13,185.28 L434.24,185.47 L435.35,185.66 L436.47,185.85 L437.58,186.04 L438.69,186.23 L439.81,186.41 L440.92,186.60 L442.03,186.78 L443.15,186.96 L444.26,187.14 L445.37,187.32 L446.49,187.50 L447.60,187.68 L448.71,187.85 L449.83,188.03 L450.94,188.20 L452.05,188.37 L453.17,188.54 L454.28,188.71 L455.39,188.88 L456.51,189.05 L457.62,189.21 L458.73,189.38 L459.85,189.54 L460.96,189.70 L462.07,189.86 L463.19,190.02 L464.30,190.18 L465.41,190.34 L466.53,190.50 L467.64,190.65 L468.75,190.81 L469.87,190.96 L470.98,191.11 L472.09,191.26 L473.21,191.41 L474.32,191.56 L475.43,191.71 L476.55,191.86 L477.66,192.00 L478.77,192.15 L479.89,192.29 L481.00,192.44 L482.11,192.58 L483.23,192.72 L484.34,192.86 L485.45,193.00 L486.57,193.14 L487.68,193.28 L488.79,193.42 L489.91,193.55 L491.02,193.69 L492.13,193.82 L493.25,193.96 L494.36,194.09 L495.47,194.22 L496.59,194.35 L497.70,194.48 L498.81,194.61 L499.93,194.74 L501.04,194.87 L502.16,194.99 L503.27,195.12 L504.38,195.25 L505.50,195.37 L506.61,195.50 L507.72,195.62 L508.84,195.74 L509.95,195.86 L511.06,195.98 L512.18,196.10 L513.29,196.22 L514.40,196.34 L515.52,196.46 L516.63,196.58 L517.74,196.70 L518.86,196.81 L519.97,196.93 L521.08,197.04 L522.20,197.16 L523.31,197.27 L524.42,197.38 L525.54,197.49 L526.65,197.61 L527.76,197.72 L528.88,197.83 L529.99,197.94 L531.10,198.05 L532.22,198.15 L533.33,198.26 L534.44,198.37 L535.56,198.48 L536.67,198.58"/>
<path d="M325.13,112.62 L326.24,110.24 L327.36,108.32 L328.47,106.77 L329.58,105.52 L330.70,104.54 L331.81,103.76 L332.92,103.17 L334.04,102.73 L335.15,102.42 L336.26,102.22 L337.38,102.12 L338.49,102.10 L339.60,102.16 L340.72,102.27 L341.83,102.44 L342.94,102.66 L344.06,102.92 L345.17,103.21 L346.28,103.53 L347.40,103.88 L348.51,104.26 L349.62,104.66 L350.74,105.07 L351.85,105.50 L352.96,105.94 L354.08,106.40 L355.19,106.86 L356.30,107.34 L357.42,107.82 L358.53,108.31 L359.64,108.80 L360.76,109.29 L361.87,109.79 L362.99,110.30 L364.10,110.80 L365.21,111.31 L366.33,111.81 L367.44,112.32 L368.55,112.83 L369.67,113.34 L370.78,113.84 L371.89,114.35 L373.01,114.85 L374.12,115.35 L375.23,115.85 L376.35,116.35 L377.46,116.85 L378.57,117.34 L379.69,117.84 L380.80,118.32 L381.91,118.81 L383.03,119.29 L384.14,119.78 L385.25,120.25 L386.37,120.73 L387.48,121.20 L388.59,121.67 L389.71,122.13 L390.82,122.60 L391.93,123.06 L393.05,123.51 L394.16,123.96 L395.27,124.41 L396.39,124.86 L397.50,125.30 L398.61,125.74 L399.73,126.18 L400.84,126.61 L401.95,127.04 L403.07,127.47 L404.18,127.89 L405.29,128.31 L406.41,128.73 L407.52,129.14 L408.63,129.55 L409.75,129.96 L410.86,130.36 L411.97,130.76 L413.09,131.16 L414.20,131.55 L415.31,131.95 L416.43,132.33 L417.54,132.72 L418.65,133.10 L419.77,133.48 L420.88,133.86 L421.99,134.23 L423.11,134.60 L424.22,134.97 L425.33,135.34 L426.45,135.70 L427.56,136.06 L428.67,136.42 L429.79,136.77 L430.90,137.12 L432.01,137.47 L433.13,137.82 L434.24,138.16 L435.35,138.50 L436.47,138.84 L437.58,139.18 L438.69,139.51 L439.81,139.84 L440.92,140.17 L442.03,140.49 L443.15,140.82 L444.26,141.14 L445.37,141.46 L446.49,141.77 L447.60,142.09 L448.71,142.40 L449.83,142.71 L450.94,143.02 L452.05,143.32 L453.17,143.63 L454.28,143.93 L455.39,144.22 L456.51,144.52 L457.62,144.82 L458.73,145.11 L459.85,145.40 L460.96,145.69 L462.07,145.97 L463.19,146.26 L464.30,146.54 L465.41,146.82 L466.53,147.10 L467.64,147.37 L468.75,147.65 L469.87,147.92 L470.98,148.19 L472.09,148.46 L473.21,148.73 L474.32,148.99 L475.43,149.26 L476.55,149.52 L477.66,149.78 L478.77,150.04 L479.89,150.29 L481.00,150.55 L482.11,150.80 L483.23,151.05 L484.34,151.30 L485.45,151.55 L486.57,151.80 L487.68,152.05 L488.79,152.29 L489.91,152.53 L491.02,152.77 L492.13,153.01 L493.25,153.25 L494.36,153.48 L495.47,153.72 L496.59,153.95 L497.70,154.18 L498.81,154.41 L499.93,154.64 L501.04,154.87 L502.16,155.10 L503.27,155.32 L504.38,155.54 L505.50,155.76 L506.61,155.99 L507.72,156.20 L508.84,156.42 L509.95,156.64 L511.06,156.85 L512.18,157.07 L513.29,157.28 L514.40,157.49 L515.52,157.70 L516.63,157.91 L517.74,158.12 L518.86,158.33 L519.97,158.53 L521.08,158.74 L522.20,158.94 L523.31,159.14 L524.42,159.34 L525.54,159.54 L526.65,159.74 L527.76,159.94 L528.88,160.13 L529.99,160.33 L531.10,160.52 L532.22,160.71 L533.33,160.91 L534.44,161.10 L535.56,161.29 L536.67,161.47"/>
<path d="M325.13,37.43 L326.24,33.71 L327.36,30.70 L328.47,28.28 L329.58,26.34 L330.70,24.80 L331.47,23.92"/>
<path d="M347.68,23.92 L348.73,24.49 L349.85,25.11 L350.96,25.76 L352.07,26.44 L353.19,27.14 L354.30,27.85 L355.41,28.58 L356.53,29.32 L357.64,30.08 L358.75,30.84 L359.87,31.61 L360.98,32.39 L362.09,33.17 L363.21,33.96 L364.32,34.75 L365.43,35.54 L366.55,36.33 L367.66,37.12 L368.77,37.91 L369.89,38.71 L371.00,39.50 L372.11,40.29 L373.23,41.07 L374.34,41.86 L375.45,42.64 L376.57,43.42 L377.68,44.19 L378.79,44.96 L379.91,45.73 L381.02,46.49 L382.13,47.25 L383.25,48.01 L384.36,48.76 L385.47,49.50 L386.59,50.25 L387.70,50.98 L388.81,51.71 L389.93,52.44 L391.04,53.16 L392.16,53.88 L393.27,54.59 L394.38,55.29 L395.50,55.99 L396.61,56.69 L397.72,57.38 L398.84,58.07 L399.95,58.75 L401.06,59.42 L402.18,60.09 L403.29,60.76 L404.40,61.42 L405.52,62.07 L406.63,62.72 L407.74,63.37 L408.86,64.01 L409.97,64.64 L411.08,65.27 L412.20,65.90 L413.31,66.52 L414.42,67.14 L415.54,67.75 L416.65,68.35 L417.76,68.96 L418.88,69.55 L419.99,70.14 L421.10,70.73 L422.22,71.32 L423.33,71.89 L424.44,72.47 L425.56,73.04 L426.67,73.60 L427.78,74.16 L428.90,74.72 L430.01,75.27 L431.12,75.82 L432.24,76.37 L433.35,76.91 L434.46,77.44 L435.58,77.97 L436.69,78.50 L437.80,79.03 L438.92,79.55 L440.03,80.06 L441.14,80.57 L442.26,81.08 L443.37,81.59 L444.48,82.09 L445.60,82.59 L446.71,83.08 L447.82,83.57 L448.94,84.06 L450.05,84.54 L451.16,85.02 L452.28,85.50 L453.39,85.97 L454.50,86.44 L455.62,86.90 L456.73,87.37 L457.84,87.83 L458.96,88.28 L460.07,88.73 L461.18,89.18 L462.30,89.63 L463.41,90.07 L464.52,90.52 L465.64,90.95 L466.75,91.39 L467.86,91.82 L468.98,92.25 L470.09,92.67 L471.20,93.09 L472.32,93.51 L473.43,93.93 L474.54,94.35 L475.66,94.76 L476.77,95.17 L477.88,95.57 L479.00,95.97 L480.11,96.38 L481.22,96.77 L482.34,97.17 L483.45,97.56 L484.56,97.95 L485.68,98.34 L486.79,98.72 L487.90,99.11 L489.02,99.49 L490.13,99.86 L491.24,100.24 L492.36,100.61 L493.47,100.98 L494.58,101.35 L495.70,101.72 L496.81,102.08 L497.92,102.44 L499.04,102.80 L500.15,103.16 L501.26,103.51 L502.38,103.87 L503.49,104.22 L504.60,104.57 L505.72,104.91 L506.83,105.26 L507.94,105.60 L509.06,105.94 L510.17,106.28 L511.28,106.61 L512.40,106.95 L513.51,107.28 L514.62,107.61 L515.74,107.94 L516.85,108.26 L517.96,108.59 L519.08,108.91 L520.19,109.23 L521.30,109.55 L522.42,109.86 L523.53,110.18 L524.64,110.49 L525.76,110.80 L526.87,111.11 L527.99,111.42 L529.10,111.73 L530.21,112.03 L531.33,112.33 L532.44,112.63 L533.55,112.93 L534.67,113.23 L535.78,113.53 L536.67,113.76"/>
<path d="M468.00,23.92 L468.98,24.47 L470.09,25.08 L471.20,25.69 L472.32,26.29 L473.43,26.89 L474.54,27.49 L475.66,28.08 L476.77,28.67 L477.88,29.25 L479.00,29.83 L480.11,30.41 L481.22,30.98 L482.34,31.55 L483.45,32.12 L484.56,32.68 L485.68,33.24 L486.79,33.79 L487.90,34.34 L489.02,34.89 L490.13,35.44 L491.24,35.98 L492.36,36.51 L493.47,37.05 L494.58,37.58 L495.70,38.10 L496.81,38.63 L497.92,39.15 L499.04,39.67 L500.15,40.18 L501.26,40.69 L502.38,41.20 L503.49,41.70 L504.60,42.21 L505.72,42.70 L506.83,43.20 L507.94,43.69 L509.06,44.18 L510.17,44.67 L511.28,45.15 L512.40,45.63 L513.51,46.11 L514.62,46.59 L515.74,47.06 L516.85,47.53 L517.96,47.99 L519.08,48.46 L520.19,48.92 L521.30,49.38 L522.42,49.83 L523.53,50.29 L524.64,50.74 L525.76,51.19 L526.87,51.63 L527.99,52.08 L529.10,52.52 L530.21,52.96 L531.33,53.39 L532.44,53.82 L533.55,54.26 L534.67,54.68 L535.78,55.11 L536.67,55.45"/>
</g>
<g clip-path="url(#c140495922607680)">
<text x="356.40" y="48.10" text-anchor="middle" class="l">500</text>
<text x="358.20" y="101.40" text-anchor="middle" class="l">400</text>
<text x="358.70" y="161.70" text-anchor="middle" class="l">300</text>
<text x="354.60" y="207.70" text-anchor="middle" class="l">200</text>
<text x="520.00" y="42.60" text-anchor="middle" class="l">600</text>
</g>
<rect x="42.45" y="316.35" width="221.05" height="221.15" fill="none" stroke="#858585" stroke-width="0.85"/>
<path d="M46.70,537.50v-1.9M46.70,316.35v1.9M57.89,537.50v-1.9M57.89,316.35v1.9M69.07,537.50v-1.9M69.07,316.35v1.9M80.26,537.50v-3.1M80.26,316.35v3.1M91.45,537.50v-1.9M91.45,316.35v1.9M102.63,537.50v-1.9M102.63,316.35v1.9M113.82,537.50v-1.9M113.82,316.35v1.9M125.01,537.50v-3.1M125.01,316.35v3.1M136.19,537.50v-1.9M136.19,316.35v1.9M147.38,537.50v-1.9M147.38,316.35v1.9M158.57,537.50v-1.9M158.57,316.35v1.9M169.76,537.50v-3.1M169.76,316.35v3.1M180.94,537.50v-1.9M180.94,316.35v1.9M192.13,537.50v-1.9M192.13,316.35v1.9M203.32,537.50v-1.9M203.32,316.35v1.9M214.50,537.50v-3.1M214.50,316.35v3.1M225.69,537.50v-1.9M225.69,316.35v1.9M236.88,537.50v-1.9M236.88,316.35v1.9M248.06,537.50v-1.9M248.06,316.35v1.9M259.25,537.50v-3.1M259.25,316.35v3.1M42.45,533.25h1.9M263.50,533.25h-1.9M42.45,522.06h1.9M263.50,522.06h-1.9M42.45,510.86h1.9M263.50,510.86h-1.9M42.45,499.67h1.9M263.50,499.67h-1.9M42.45,488.48h3.1M263.50,488.48h-3.1M42.45,477.29h1.9M263.50,477.29h-1.9M42.45,466.10h1.9M263.50,466.10h-1.9M42.45,454.90h1.9M263.50,454.90h-1.9M42.45,443.71h1.9M263.50,443.71h-1.9M42.45,432.52h3.1M263.50,432.52h-3.1M42.45,421.33h1.9M263.50,421.33h-1.9M42.45,410.14h1.9M263.50,410.14h-1.9M42.45,398.95h1.9M263.50,398.95h-1.9M42.45,387.75h1.9M263.50,387.75h-1.9M42.45,376.56h3.1M263.50,376.56h-3.1M42.45,365.37h1.9M263.50,365.37h-1.9M42.45,354.18h1.9M263.50,354.18h-1.9M42.45,342.99h1.9M263.50,342.99h-1.9M42.45,331.79h1.9M263.50,331.79h-1.9M42.45,320.60h3.1M263.50,320.60h-3.1" stroke="#858585" stroke-width="0.9" fill="none"/>
<text x="80.26" y="552.30" text-anchor="middle" class="t">2</text>
<text x="125.01" y="552.30" text-anchor="middle" class="t">4</text>
<text x="169.76" y="552.30" text-anchor="middle" class="t">6</text>
<text x="214.50" y="552.30" text-anchor="middle" class="t">8</text>
<text x="259.25" y="552.30" text-anchor="middle" class="t">10</text>
<text x="37.95" y="492.38" text-anchor="end" class="t">5</text>
<text x="37.95" y="436.42" text-anchor="end" class="t">10</text>
<text x="37.95" y="380.46" text-anchor="end" class="t">15</text>
<text x="37.95" y="324.50" text-anchor="end" class="t">20</text>
<text x="152.97" y="574.10" text-anchor="middle" class="ax"><tspan font-style="italic">α</tspan></text>
<text transform="translate(13.85,427.23) rotate(-90)" text-anchor="middle" class="ax">A</text>
<text x="114.87" y="311.15" class="ti" style="white-space:pre"><tspan font-style="italic">v</tspan><tspan dx="1.0">=0.2, </tspan><tspan font-style="italic" dx="0.5">G</tspan>=20</text>
<clipPath id="c140495875369600"><rect x="42.45" y="316.35" width="221.05" height="221.15"/></clipPath>
<g fill="none" stroke="#000" stroke-width="1.42" stroke-linecap="butt" stroke-linejoin="round">
<path d="M46.70,532.88 L47.82,532.65 L48.94,532.46 L50.06,532.29 L51.18,532.16 L52.29,532.05 L53.41,531.96 L54.53,531.89 L55.65,531.83 L56.77,531.78 L57.89,531.74 L59.01,531.71 L60.13,531.70 L61.24,531.68 L62.36,531.68 L63.48,531.68 L64.60,531.68 L65.72,531.69 L66.84,531.70 L67.96,531.72 L69.07,531.74 L70.19,531.76 L71.31,531.78 L72.43,531.81 L73.55,531.84 L74.67,531.87 L75.79,531.90 L76.91,531.93 L78.02,531.97 L79.14,532.00 L80.26,532.03 L81.38,532.07 L82.50,532.11 L83.62,532.15 L84.74,532.18 L85.85,532.22 L86.97,532.26 L88.09,532.30 L89.21,532.34 L90.33,532.38 L91.45,532.42 L92.57,532.46 L93.69,532.50 L94.80,532.54 L95.92,532.58 L97.04,532.62 L98.16,532.66 L99.28,532.70 L100.40,532.74 L101.52,532.78 L102.63,532.82 L103.75,532.86 L104.87,532.90 L105.99,532.94 L107.11,532.98 L108.23,533.02 L109.35,533.06 L110.47,533.09 L111.58,533.13 L112.70,533.17 L113.82,533.21 L114.90,533.25"/>
<path d="M46.70,518.44 L47.82,517.91 L48.94,517.48 L50.06,517.11 L51.18,516.81 L52.29,516.56 L53.41,516.36 L54.53,516.19 L55.65,516.06 L56.77,515.95 L57.89,515.87 L59.01,515.81 L60.13,515.77 L61.24,515.74 L62.36,515.73 L63.48,515.73 L64.60,515.74 L65.72,515.76 L66.84,515.78 L67.96,515.82 L69.07,515.86 L70.19,515.91 L71.31,515.97 L72.43,516.03 L73.55,516.09 L74.67,516.15 L75.79,516.22 L76.91,516.30 L78.02,516.37 L79.14,516.45 L80.26,516.53 L81.38,516.61 L82.50,516.69 L83.62,516.78 L84.74,516.86 L85.85,516.95 L86.97,517.04 L88.09,517.13 L89.21,517.21 L90.33,517.30 L91.45,517.39 L92.57,517.48 L93.69,517.57 L94.80,517.66 L95.92,517.75 L97.04,517.84 L98.16,517.93 L99.28,518.03 L100.40,518.12 L101.52,518.21 L102.63,518.29 L103.75,518.38 L104.87,518.47 L105.99,518.56 L107.11,518.65 L108.23,518.74 L109.35,518.83 L110.47,518.91 L111.58,519.00 L112.70,519.09 L113.82,519.17 L114.94,519.26 L116.06,519.35 L117.18,519.43 L118.30,519.52 L119.41,519.60 L120.53,519.68 L121.65,519.77 L122.77,519.85 L123.89,519.93 L125.01,520.01 L126.13,520.09 L127.25,520.17 L128.36,520.25 L129.48,520.33 L130.60,520.41 L131.72,520.49 L132.84,520.57 L133.96,520.64 L135.08,520.72 L136.19,520.80 L137.31,520.87 L138.43,520.95 L139.55,521.02 L140.67,521.10 L141.79,521.17 L142.91,521.24 L144.03,521.32 L145.14,521.39 L146.26,521.46 L147.38,521.53 L148.50,521.60 L149.62,521.67 L150.74,521.74 L151.86,521.81 L152.98,521.88 L154.09,521.95 L155.21,522.01 L156.33,522.08 L157.45,522.15 L158.57,522.21 L159.69,522.28 L160.81,522.35 L161.92,522.41 L163.04,522.48 L164.16,522.54 L165.28,522.60 L166.40,522.67 L167.52,522.73 L168.64,522.79 L169.76,522.85 L170.87,522.91 L171.99,522.98 L173.11,523.04 L174.23,523.10 L175.35,523.16 L176.47,523.22 L177.59,523.27 L178.70,523.33 L179.82,523.39 L180.94,523.45 L182.06,523.51 L183.18,523.56 L184.30,523.62 L185.42,523.68 L186.54,523.73 L187.65,523.79 L188.77,523.84 L189.89,523.90 L191.01,523.95 L192.13,524.01 L193.25,524.06 L194.37,524.12 L195.48,524.17 L196.60,524.22 L197.72,524.27 L198.84,524.33 L199.96,524.38 L201.08,524.43 L202.20,524.48 L203.32,524.53 L204.43,524.58 L205.55,524.63 L206.67,524.68 L207.79,524.73 L208.91,524.78 L210.03,524.83 L211.15,524.88 L212.26,524.93 L213.38,524.97 L214.50,525.02 L215.62,525.07 L216.74,525.12 L217.86,525.16 L218.98,525.21 L220.10,525.26 L221.21,525.30 L222.33,525.35 L223.45,525.39 L224.57,525.44 L225.69,525.48 L226.81,525.53 L227.93,525.57 L229.04,525.62 L230.16,525.66 L231.28,525.70 L232.40,525.75 L233.52,525.79 L234.64,525.83 L235.76,525.88 L236.88,525.92 L237.99,525.96 L239.11,526.00 L240.23,526.05 L241.35,526.09 L242.47,526.13 L243.59,526.17 L244.71,526.21 L245.82,526.25 L246.94,526.29 L248.06,526.33 L249.18,526.37 L250.30,526.41 L251.42,526.45 L252.54,526.49 L253.66,526.53 L254.77,526.57 L255.89,526.61 L257.01,526.64 L258.13,526.68 L259.25,526.72"/>
<path d="M46.70,498.22 L47.82,497.28 L48.94,496.51 L50.06,495.86 L51.18,495.33 L52.29,494.89 L53.41,494.52 L54.53,494.23 L55.65,493.99 L56.77,493.80 L57.89,493.65 L59.01,493.54 L60.13,493.47 L61.24,493.42 L62.36,493.40 L63.48,493.39 L64.60,493.41 L65.72,493.45 L66.84,493.50 L67.96,493.56 L69.07,493.64 L70.19,493.73 L71.31,493.82 L72.43,493.93 L73.55,494.04 L74.67,494.16 L75.79,494.28 L76.91,494.41 L78.02,494.54 L79.14,494.68 L80.26,494.82 L81.38,494.97 L82.50,495.12 L83.62,495.27 L84.74,495.42 L85.85,495.57 L86.97,495.73 L88.09,495.88 L89.21,496.04 L90.33,496.20 L91.45,496.36 L92.57,496.52 L93.69,496.68 L94.80,496.84 L95.92,497.00 L97.04,497.16 L98.16,497.32 L99.28,497.48 L100.40,497.64 L101.52,497.80 L102.63,497.96 L103.75,498.12 L104.87,498.28 L105.99,498.44 L107.11,498.59 L108.23,498.75 L109.35,498.91 L110.47,499.06 L111.58,499.22 L112.70,499.37 L113.82,499.53 L114.94,499.68 L116.06,499.83 L117.18,499.98 L118.30,500.13 L119.41,500.28 L120.53,500.43 L121.65,500.57 L122.77,500.72 L123.89,500.87 L125.01,501.01 L126.13,501.16 L127.25,501.30 L128.36,501.44 L129.48,501.58 L130.60,501.72 L131.72,501.86 L132.84,502.00 L133.96,502.14 L135.08,502.27 L136.19,502.41 L137.31,502.54 L138.43,502.68 L139.55,502.81 L140.67,502.94 L141.79,503.07 L142.91,503.20 L144.03,503.33 L145.14,503.46 L146.26,503.59 L147.38,503.71 L148.50,503.84 L149.62,503.96 L150.74,504.09 L151.86,504.21 L152.98,504.33 L154.09,504.45 L155.21,504.57 L156.33,504.69 L157.45,504.81 L158.57,504.93 L159.69,505.05 L160.81,505.16 L161.92,505.28 L163.04,505.39 L164.16,505.51 L165.28,505.62 L166.40,505.73 L167.52,505.84 L168.64,505.95 L169.76,506.06 L170.87,506.17 L171.99,506.28 L173.11,506.39 L174.23,506.50 L175.35,506.60 L176.47,506.71 L177.59,506.81 L178.70,506.92 L179.82,507.02 L180.94,507.12 L182.06,507.23 L183.18,507.33 L184.30,507.43 L185.42,507.53 L186.54,507.63 L187.65,507.73 L188.77,507.83 L189.89,507.92 L191.01,508.02 L192.13,508.12 L193.25,508.21 L194.37,508.31 L195.48,508.40 L196.60,508.50 L197.72,508.59 L198.84,508.68 L199.96,508.77 L201.08,508.87 L202.20,508.96 L203.32,509.05 L204.43,509.14 L205.55,509.23 L206.67,509.31 L207.79,509.40 L208.91,509.49 L210.03,509.58 L211.15,509.66 L212.26,509.75 L213.38,509.83 L214.50,509.92 L215.62,510.00 L216.74,510.09 L217.86,510.17 L218.98,510.25 L220.10,510.34 L221.21,510.42 L222.33,510.50 L223.45,510.58 L224.57,510.66 L225.69,510.74 L226.81,510.82 L227.93,510.90 L229.04,510.98 L230.16,511.06 L231.28,511.13 L232.40,511.21 L233.52,511.29 L234.64,511.36 L235.76,511.44 L236.88,511.52 L237.99,511.59 L239.11,511.67 L240.23,511.74 L241.35,511.81 L242.47,511.89 L243.59,511.96 L244.71,512.03 L245.82,512.10 L246.94,512.18 L248.06,512.25 L249.18,512.32 L250.30,512.39 L251.42,512.46 L252.54,512.53 L253.66,512.60 L254.77,512.67 L255.89,512.74 L257.01,512.80 L258.13,512.87 L259.25,512.94"/>
<path d="M46.70,472.23 L47.82,470.76 L48.94,469.54 L50.06,468.54 L51.18,467.70 L52.29,467.01 L53.41,466.44 L54.53,465.98 L55.65,465.61 L56.77,465.31 L57.89,465.08 L59.01,464.91 L60.13,464.79 L61.24,464.72 L62.36,464.68 L63.48,464.68 L64.60,464.71 L65.72,464.77 L66.84,464.84 L67.96,464.94 L69.07,465.06 L70.19,465.20 L71.31,465.35 L72.43,465.51 L73.55,465.69 L74.67,465.87 L75.79,466.07 L76.91,466.27 L78.02,466.48 L79.14,466.69 L80.26,466.91 L81.38,467.14 L82.50,467.37 L83.62,467.60 L84.74,467.84 L85.85,468.08 L86.97,468.33 L88.09,468.57 L89.21,468.82 L90.33,469.06 L91.45,469.31 L92.57,469.56 L93.69,469.81 L94.80,470.06 L95.92,470.31 L97.04,470.57 L98.16,470.82 L99.28,471.07 L100.40,471.32 L101.52,471.57 L102.63,471.82 L103.75,472.07 L104.87,472.31 L105.99,472.56 L107.11,472.81 L108.23,473.05 L109.35,473.30 L110.47,473.54 L111.58,473.78 L112.70,474.02 L113.82,474.26 L114.94,474.50 L116.06,474.74 L117.18,474.97 L118.30,475.21 L119.41,475.44 L120.53,475.67 L121.65,475.90 L122.77,476.13 L123.89,476.36 L125.01,476.58 L126.13,476.81 L127.25,477.03 L128.36,477.25 L129.48,477.47 L130.60,477.69 L131.72,477.91 L132.84,478.13 L133.96,478.34 L135.08,478.55 L136.19,478.76 L137.31,478.97 L138.43,479.18 L139.55,479.39 L140.67,479.60 L141.79,479.80 L142.91,480.00 L144.03,480.21 L145.14,480.41 L146.26,480.61 L147.38,480.80 L148.50,481.00 L149.62,481.19 L150.74,481.39 L151.86,481.58 L152.98,481.77 L154.09,481.96 L155.21,482.15 L156.33,482.33 L157.45,482.52 L158.57,482.70 L159.69,482.89 L160.81,483.07 L161.92,483.25 L163.04,483.43 L164.16,483.61 L165.28,483.78 L166.40,483.96 L167.52,484.13 L168.64,484.31 L169.76,484.48 L170.87,484.65 L171.99,484.82 L173.11,484.99 L174.23,485.15 L175.35,485.32 L176.47,485.49 L177.59,485.65 L178.70,485.81 L179.82,485.97 L180.94,486.14 L182.06,486.30 L183.18,486.45 L184.30,486.61 L185.42,486.77 L186.54,486.92 L187.65,487.08 L188.77,487.23 L189.89,487.38 L191.01,487.54 L192.13,487.69 L193.25,487.84 L194.37,487.98 L195.48,488.13 L196.60,488.28 L197.72,488.42 L198.84,488.57 L199.96,488.71 L201.08,488.86 L202.20,489.00 L203.32,489.14 L204.43,489.28 L205.55,489.42 L206.67,489.56 L207.79,489.69 L208.91,489.83 L210.03,489.97 L211.15,490.10 L212.26,490.24 L213.38,490.37 L214.50,490.50 L215.62,490.63 L216.74,490.77 L217.86,490.90 L218.98,491.03 L220.10,491.15 L221.21,491.28 L222.33,491.41 L223.45,491.54 L224.57,491.66 L225.69,491.79 L226.81,491.91 L227.93,492.03 L229.04,492.16 L230.16,492.28 L231.28,492.40 L232.40,492.52 L233.52,492.64 L234.64,492.76 L235.76,492.88 L236.88,493.00 L237.99,493.11 L239.11,493.23 L240.23,493.35 L241.35,493.46 L242.47,493.58 L243.59,493.69 L244.71,493.80 L245.82,493.92 L246.94,494.03 L248.06,494.14 L249.18,494.25 L250.30,494.36 L251.42,494.47 L252.54,494.58 L253.66,494.69 L254.77,494.79 L255.89,494.90 L257.01,495.01 L258.13,495.11 L259.25,495.22"/>
<path d="M46.70,440.45 L47.82,438.34 L48.94,436.59 L50.06,435.14 L51.18,433.94 L52.29,432.94 L53.41,432.13 L54.53,431.46 L55.65,430.92 L56.77,430.50 L57.89,430.17 L59.01,429.92 L60.13,429.75 L61.24,429.64 L62.36,429.59 L63.48,429.59 L64.60,429.63 L65.72,429.71 L66.84,429.82 L67.96,429.97 L69.07,430.14 L70.19,430.33 L71.31,430.55 L72.43,430.78 L73.55,431.04 L74.67,431.30 L75.79,431.58 L76.91,431.87 L78.02,432.17 L79.14,432.48 L80.26,432.80 L81.38,433.13 L82.50,433.46 L83.62,433.80 L84.74,434.14 L85.85,434.49 L86.97,434.84 L88.09,435.19 L89.21,435.54 L90.33,435.90 L91.45,436.26 L92.57,436.62 L93.69,436.98 L94.80,437.34 L95.92,437.70 L97.04,438.06 L98.16,438.42 L99.28,438.78 L100.40,439.14 L101.52,439.50 L102.63,439.86 L103.75,440.22 L104.87,440.58 L105.99,440.93 L107.11,441.29 L108.23,441.64 L109.35,441.99 L110.47,442.34 L111.58,442.69 L112.70,443.04 L113.82,443.38 L114.94,443.73 L116.06,444.07 L117.18,444.41 L118.30,444.74 L119.41,445.08 L120.53,445.41 L121.65,445.74 L122.77,446.07 L123.89,446.40 L125.01,446.73 L126.13,447.05 L127.25,447.37 L128.36,447.69 L129.48,448.01 L130.60,448.32 L131.72,448.64 L132.84,448.95 L133.96,449.26 L135.08,449.56 L136.19,449.87 L137.31,450.17 L138.43,450.47 L139.55,450.77 L140.67,451.07 L141.79,451.36 L142.91,451.65 L144.03,451.94 L145.14,452.23 L146.26,452.52 L147.38,452.80 L148.50,453.09 L149.62,453.37 L150.74,453.64 L151.86,453.92 L152.98,454.20 L154.09,454.47 L155.21,454.74 L156.33,455.01 L157.45,455.28 L158.57,455.54 L159.69,455.80 L160.81,456.07 L161.92,456.33 L163.04,456.58 L164.16,456.84 L165.28,457.09 L166.40,457.35 L167.52,457.60 L168.64,457.85 L169.76,458.10 L170.87,458.34 L171.99,458.59 L173.11,458.83 L174.23,459.07 L175.35,459.31 L176.47,459.55 L177.59,459.78 L178.70,460.02 L179.82,460.25 L180.94,460.48 L182.06,460.71 L183.18,460.94 L184.30,461.17 L185.42,461.39 L186.54,461.62 L187.65,461.84 L188.77,462.06 L189.89,462.28 L191.01,462.50 L192.13,462.71 L193.25,462.93 L194.37,463.14 L195.48,463.36 L196.60,463.57 L197.72,463.78 L198.84,463.99 L199.96,464.19 L201.08,464.40 L202.20,464.60 L203.32,464.81 L204.43,465.01 L205.55,465.21 L206.67,465.41 L207.79,465.61 L208.91,465.80 L210.03,466.00 L211.15,466.19 L212.26,466.39 L213.38,466.58 L214.50,466.77 L215.62,466.96 L216.74,467.15 L217.86,467.34 L218.98,467.52 L220.10,467.71 L221.21,467.89 L222.33,468.08 L223.45,468.26 L224.57,468.44 L225.69,468.62 L226.81,468.80 L227.93,468.98 L229.04,469.15 L230.16,469.33 L231.28,469.50 L232.40,469.68 L233.52,469.85 L234.64,470.02 L235.76,470.19 L236.88,470.36 L237.99,470.53 L239.11,470.70 L240.23,470.87 L241.35,471.03 L242.47,471.20 L243.59,471.36 L244.71,471.52 L245.82,471.69 L246.94,471.85 L248.06,472.01 L249.18,472.17 L250.30,472.33 L251.42,472.48 L252.54,472.64 L253.66,472.80 L254.77,472.95 L255.89,473.11 L257.01,473.26 L258.13,473.41 L259.25,473.56"/>
<path d="M46.70,402.90 L47.82,400.03 L48.94,397.65 L50.06,395.67 L51.18,394.03 L52.29,392.68 L53.41,391.57 L54.53,390.66 L55.65,389.93 L56.77,389.35 L57.89,388.90 L59.01,388.57 L60.13,388.33 L61.24,388.19 L62.36,388.12 L63.48,388.11 L64.60,388.17 L65.72,388.28 L66.84,388.43 L67.96,388.63 L69.07,388.86 L70.19,389.13 L71.31,389.42 L72.43,389.74 L73.55,390.08 L74.67,390.45 L75.79,390.83 L76.91,391.22 L78.02,391.63 L79.14,392.06 L80.26,392.49 L81.38,392.93 L82.50,393.39 L83.62,393.84 L84.74,394.31 L85.85,394.78 L86.97,395.26 L88.09,395.74 L89.21,396.22 L90.33,396.70 L91.45,397.19 L92.57,397.68 L93.69,398.17 L94.80,398.66 L95.92,399.15 L97.04,399.65 L98.16,400.14 L99.28,400.63 L100.40,401.12 L101.52,401.61 L102.63,402.10 L103.75,402.59 L104.87,403.07 L105.99,403.56 L107.11,404.04 L108.23,404.52 L109.35,405.00 L110.47,405.47 L111.58,405.95 L112.70,406.42 L113.82,406.89 L114.94,407.36 L116.06,407.82 L117.18,408.28 L118.30,408.74 L119.41,409.20 L120.53,409.65 L121.65,410.11 L122.77,410.55 L123.89,411.00 L125.01,411.44 L126.13,411.88 L127.25,412.32 L128.36,412.75 L129.48,413.19 L130.60,413.62 L131.72,414.04 L132.84,414.46 L133.96,414.89 L135.08,415.30 L136.19,415.72 L137.31,416.13 L138.43,416.54 L139.55,416.95 L140.67,417.35 L141.79,417.75 L142.91,418.15 L144.03,418.54 L145.14,418.94 L146.26,419.33 L147.38,419.71 L148.50,420.10 L149.62,420.48 L150.74,420.86 L151.86,421.23 L152.98,421.61 L154.09,421.98 L155.21,422.35 L156.33,422.71 L157.45,423.08 L158.57,423.44 L159.69,423.80 L160.81,424.15 L161.92,424.51 L163.04,424.86 L164.16,425.21 L165.28,425.55 L166.40,425.90 L167.52,426.24 L168.64,426.58 L169.76,426.92 L170.87,427.25 L171.99,427.58 L173.11,427.91 L174.23,428.24 L175.35,428.57 L176.47,428.89 L177.59,429.21 L178.70,429.53 L179.82,429.85 L180.94,430.16 L182.06,430.48 L183.18,430.79 L184.30,431.10 L185.42,431.40 L186.54,431.71 L187.65,432.01 L188.77,432.31 L189.89,432.61 L191.01,432.91 L192.13,433.20 L193.25,433.50 L194.37,433.79 L195.48,434.08 L196.60,434.36 L197.72,434.65 L198.84,434.93 L199.96,435.21 L201.08,435.50 L202.20,435.77 L203.32,436.05 L204.43,436.33 L205.55,436.60 L206.67,436.87 L207.79,437.14 L208.91,437.41 L210.03,437.67 L211.15,437.94 L212.26,438.20 L213.38,438.46 L214.50,438.72 L215.62,438.98 L216.74,439.24 L217.86,439.49 L218.98,439.75 L220.10,440.00 L221.21,440.25 L222.33,440.50 L223.45,440.75 L224.57,441.00 L225.69,441.24 L226.81,441.48 L227.93,441.73 L229.04,441.97 L230.16,442.21 L231.28,442.44 L232.40,442.68 L233.52,442.91 L234.64,443.15 L235.76,443.38 L236.88,443.61 L237.99,443.84 L239.11,444.07 L240.23,444.30 L241.35,444.52 L242.47,444.75 L243.59,444.97 L244.71,445.19 L245.82,445.41 L246.94,445.63 L248.06,445.85 L249.18,446.07 L250.30,446.28 L251.42,446.50 L252.54,446.71 L253.66,446.92 L254.77,447.14 L255.89,447.35 L257.01,447.56 L258.13,447.76 L259.25,447.97"/>
<path d="M46.70,359.57 L47.82,355.82 L48.94,352.71 L50.06,350.13 L51.18,347.99 L52.29,346.22 L53.41,344.77 L54.53,343.59 L55.65,342.63 L56.77,341.88 L57.89,341.29 L59.01,340.85 L60.13,340.55 L61.24,340.36 L62.36,340.26 L63.48,340.26 L64.60,340.33 L65.72,340.47 L66.84,340.68 L67.96,340.93 L69.07,341.24 L70.19,341.58 L71.31,341.97 L72.43,342.39 L73.55,342.83 L74.67,343.31 L75.79,343.80 L76.91,344.32 L78.02,344.86 L79.14,345.41 L80.26,345.98 L81.38,346.55 L82.50,347.14 L83.62,347.74 L84.74,348.35 L85.85,348.97 L86.97,349.59 L88.09,350.21 L89.21,350.84 L90.33,351.48 L91.45,352.12 L92.57,352.75 L93.69,353.40 L94.80,354.04 L95.92,354.68 L97.04,355.32 L98.16,355.96 L99.28,356.61 L100.40,357.25 L101.52,357.89 L102.63,358.53 L103.75,359.16 L104.87,359.80 L105.99,360.43 L107.11,361.06 L108.23,361.69 L109.35,362.31 L110.47,362.93 L111.58,363.55 L112.70,364.17 L113.82,364.78 L114.94,365.39 L116.06,366.00 L117.18,366.60 L118.30,367.20 L119.41,367.80 L120.53,368.39 L121.65,368.98 L122.77,369.57 L123.89,370.15 L125.01,370.73 L126.13,371.30 L127.25,371.88 L128.36,372.44 L129.48,373.01 L130.60,373.57 L131.72,374.12 L132.84,374.68 L133.96,375.23 L135.08,375.77 L136.19,376.31 L137.31,376.85 L138.43,377.39 L139.55,377.92 L140.67,378.44 L141.79,378.97 L142.91,379.49 L144.03,380.00 L145.14,380.52 L146.26,381.02 L147.38,381.53 L148.50,382.03 L149.62,382.53 L150.74,383.03 L151.86,383.52 L152.98,384.01 L154.09,384.49 L155.21,384.97 L156.33,385.45 L157.45,385.93 L158.57,386.40 L159.69,386.87 L160.81,387.33 L161.92,387.79 L163.04,388.25 L164.16,388.71 L165.28,389.16 L166.40,389.61 L167.52,390.06 L168.64,390.50 L169.76,390.94 L170.87,391.38 L171.99,391.81 L173.11,392.24 L174.23,392.67 L175.35,393.10 L176.47,393.52 L177.59,393.94 L178.70,394.36 L179.82,394.77 L180.94,395.18 L182.06,395.59 L183.18,396.00 L184.30,396.40 L185.42,396.80 L186.54,397.20 L187.65,397.59 L188.77,397.99 L189.89,398.38 L191.01,398.77 L192.13,399.15 L193.25,399.53 L194.37,399.91 L195.48,400.29 L196.60,400.67 L197.72,401.04 L198.84,401.41 L199.96,401.78 L201.08,402.14 L202.20,402.51 L203.32,402.87 L204.43,403.23 L205.55,403.59 L206.67,403.94 L207.79,404.29 L208.91,404.64 L210.03,404.99 L211.15,405.34 L212.26,405.68 L213.38,406.02 L214.50,406.36 L215.62,406.70 L216.74,407.04 L217.86,407.37 L218.98,407.70 L220.10,408.03 L221.21,408.36 L222.33,408.68 L223.45,409.01 L224.57,409.33 L225.69,409.65 L226.81,409.97 L227.93,410.28 L229.04,410.60 L230.16,410.91 L231.28,411.22 L232.40,411.53 L233.52,411.84 L234.64,412.14 L235.76,412.44 L236.88,412.75 L237.99,413.05 L239.11,413.34 L240.23,413.64 L241.35,413.94 L242.47,414.23 L243.59,414.52 L244.71,414.81 L245.82,415.10 L246.94,415.39 L248.06,415.67 L249.18,415.95 L250.30,416.24 L251.42,416.52 L252.54,416.80 L253.66,417.07 L254.77,417.35 L255.89,417.62 L257.01,417.90 L258.13,418.17 L259.25,418.44"/>
<path d="M119.00,320.60 L120.09,321.33 L121.20,322.08 L122.32,322.82 L123.44,323.56 L124.56,324.30 L125.68,325.03 L126.80,325.75 L127.92,326.47 L129.04,327.19 L130.15,327.90 L131.27,328.60 L132.39,329.30 L133.51,330.00 L134.63,330.69 L135.75,331.38 L136.87,332.06 L137.98,332.74 L139.10,333.42 L140.22,334.08 L141.34,334.75 L142.46,335.41 L143.58,336.06 L144.70,336.71 L145.82,337.36 L146.93,338.00 L148.05,338.64 L149.17,339.27 L150.29,339.90 L151.41,340.53 L152.53,341.15 L153.65,341.76 L154.76,342.37 L155.88,342.98 L157.00,343.58 L158.12,344.18 L159.24,344.77 L160.36,345.36 L161.48,345.95 L162.60,346.53 L163.71,347.11 L164.83,347.69 L165.95,348.26 L167.07,348.82 L168.19,349.39 L169.31,349.94 L170.43,350.50 L171.54,351.05 L172.66,351.60 L173.78,352.14 L174.90,352.68 L176.02,353.22 L177.14,353.75 L178.26,354.28 L179.38,354.81 L180.49,355.33 L181.61,355.85 L182.73,356.36 L183.85,356.87 L184.97,357.38 L186.09,357.89 L187.21,358.39 L188.33,358.89 L189.44,359.38 L190.56,359.87 L191.68,360.36 L192.80,360.85 L193.92,361.33 L195.04,361.81 L196.16,362.29 L197.27,362.76 L198.39,363.23 L199.51,363.70 L200.63,364.16 L201.75,364.62 L202.87,365.08 L203.99,365.54 L205.11,365.99 L206.22,366.44 L207.34,366.89 L208.46,367.33 L209.58,367.77 L210.70,368.21 L211.82,368.65 L212.94,369.08 L214.05,369.51 L215.17,369.94 L216.29,370.37 L217.41,370.79 L218.53,371.21 L219.65,371.63 L220.77,372.05 L221.89,372.46 L223.00,372.87 L224.12,373.28 L225.24,373.68 L226.36,374.09 L227.48,374.49 L228.60,374.89 L229.72,375.28 L230.83,375.68 L231.95,376.07 L233.07,376.46 L234.19,376.84 L235.31,377.23 L236.43,377.61 L237.55,377.99 L238.67,378.37 L239.78,378.75 L240.90,379.12 L242.02,379.49 L243.14,379.86 L244.26,380.23 L245.38,380.60 L246.50,380.96 L247.61,381.32 L248.73,381.68 L249.85,382.04 L250.97,382.40 L252.09,382.75 L253.21,383.10 L254.33,383.45 L255.45,383.80 L256.56,384.15 L257.68,384.49 L258.80,384.83 L259.25,384.97"/>
<path d="M198.16,320.60 L199.06,321.07 L200.18,321.65 L201.30,322.22 L202.42,322.79 L203.54,323.35 L204.66,323.91 L205.78,324.47 L206.90,325.02 L208.01,325.57 L209.13,326.12 L210.25,326.66 L211.37,327.20 L212.49,327.74 L213.61,328.27 L214.73,328.80 L215.84,329.33 L216.96,329.85 L218.08,330.37 L219.20,330.89 L220.32,331.40 L221.44,331.91 L222.56,332.42 L223.68,332.93 L224.79,333.43 L225.91,333.93 L227.03,334.42 L228.15,334.92 L229.27,335.41 L230.39,335.90 L231.51,336.38 L232.62,336.86 L233.74,337.34 L234.86,337.82 L235.98,338.29 L237.10,338.76 L238.22,339.23 L239.34,339.70 L240.46,340.16 L241.57,340.62 L242.69,341.08 L243.81,341.53 L244.93,341.99 L246.05,342.44 L247.17,342.88 L248.29,343.33 L249.40,343.77 L250.52,344.21 L251.64,344.65 L252.76,345.08 L253.88,345.52 L255.00,345.95 L256.12,346.38 L257.24,346.80 L258.35,347.23 L259.25,347.56"/>
</g>
<g clip-path="url(#c140495875369600)">
<text x="76.00" y="337.70" text-anchor="middle" class="l">200</text>
<text x="74.00" y="385.20" text-anchor="middle" class="l">175</text>
<text x="73.00" y="426.70" text-anchor="middle" class="l">150</text>
<text x="77.90" y="459.90" text-anchor="middle" class="l">125</text>
<text x="76.60" y="489.70" text-anchor="middle" class="l">100</text>
<text x="74.70" y="512.10" text-anchor="middle" class="l">75</text>
<text x="75.20" y="528.10" text-anchor="middle" class="l">50</text>
<text x="246.50" y="335.60" text-anchor="middle" class="l">250</text>
</g>
<rect x="320.90" y="316.35" width="221.30" height="221.10" fill="none" stroke="#858585" stroke-width="0.85"/>
<path d="M325.16,537.45v-1.9M325.16,316.35v1.9M336.36,537.45v-1.9M336.36,316.35v1.9M347.55,537.45v-1.9M347.55,316.35v1.9M358.75,537.45v-3.1M358.75,316.35v3.1M369.95,537.45v-1.9M369.95,316.35v1.9M381.15,537.45v-1.9M381.15,316.35v1.9M392.35,537.45v-1.9M392.35,316.35v1.9M403.55,537.45v-3.1M403.55,316.35v3.1M414.75,537.45v-1.9M414.75,316.35v1.9M425.95,537.45v-1.9M425.95,316.35v1.9M437.15,537.45v-1.9M437.15,316.35v1.9M448.35,537.45v-3.1M448.35,316.35v3.1M459.55,537.45v-1.9M459.55,316.35v1.9M470.75,537.45v-1.9M470.75,316.35v1.9M481.95,537.45v-1.9M481.95,316.35v1.9M493.15,537.45v-3.1M493.15,316.35v3.1M504.35,537.45v-1.9M504.35,316.35v1.9M515.55,537.45v-1.9M515.55,316.35v1.9M526.74,537.45v-1.9M526.74,316.35v1.9M537.94,537.45v-3.1M537.94,316.35v3.1M320.90,533.20h1.9M542.20,533.20h-1.9M320.90,522.01h1.9M542.20,522.01h-1.9M320.90,510.82h1.9M542.20,510.82h-1.9M320.90,499.63h1.9M542.20,499.63h-1.9M320.90,488.44h3.1M542.20,488.44h-3.1M320.90,477.25h1.9M542.20,477.25h-1.9M320.90,466.06h1.9M542.20,466.06h-1.9M320.90,454.87h1.9M542.20,454.87h-1.9M320.90,443.68h1.9M542.20,443.68h-1.9M320.90,432.49h3.1M542.20,432.49h-3.1M320.90,421.31h1.9M542.20,421.31h-1.9M320.90,410.12h1.9M542.20,410.12h-1.9M320.90,398.93h1.9M542.20,398.93h-1.9M320.90,387.74h1.9M542.20,387.74h-1.9M320.90,376.55h3.1M542.20,376.55h-3.1M320.90,365.36h1.9M542.20,365.36h-1.9M320.90,354.17h1.9M542.20,354.17h-1.9M320.90,342.98h1.9M542.20,342.98h-1.9M320.90,331.79h1.9M542.20,331.79h-1.9M320.90,320.60h3.1M542.20,320.60h-3.1" stroke="#858585" stroke-width="0.9" fill="none"/>
<text x="358.75" y="552.25" text-anchor="middle" class="t">2</text>
<text x="403.55" y="552.25" text-anchor="middle" class="t">4</text>
<text x="448.35" y="552.25" text-anchor="middle" class="t">6</text>
<text x="493.15" y="552.25" text-anchor="middle" class="t">8</text>
<text x="537.94" y="552.25" text-anchor="middle" class="t">10</text>
<text x="316.40" y="492.34" text-anchor="end" class="t">5</text>
<text x="316.40" y="436.39" text-anchor="end" class="t">10</text>
<text x="316.40" y="380.45" text-anchor="end" class="t">15</text>
<text x="316.40" y="324.50" text-anchor="end" class="t">20</text>
<text x="431.55" y="574.05" text-anchor="middle" class="ax"><tspan font-style="italic">α</tspan></text>
<text transform="translate(292.30,427.20) rotate(-90)" text-anchor="middle" class="ax">A</text>
<text x="393.45" y="311.15" class="ti" style="white-space:pre"><tspan font-style="italic">v</tspan><tspan dx="1.0">=0.2, </tspan><tspan font-style="italic" dx="0.5">G</tspan>=60</text>
<clipPath id="c140495875371712"><rect x="320.90" y="316.35" width="221.30" height="221.10"/></clipPath>
<g fill="none" stroke="#000" stroke-width="1.42" stroke-linecap="butt" stroke-linejoin="round">
<path d="M325.16,523.85 L326.28,523.43 L327.40,523.09 L328.52,522.80 L329.64,522.56 L330.76,522.37 L331.88,522.21 L333.00,522.08 L334.12,521.97 L335.24,521.89 L336.36,521.82 L337.48,521.77 L338.60,521.74 L339.71,521.72 L340.83,521.71 L341.95,521.71 L343.07,521.71 L344.19,521.73 L345.31,521.75 L346.43,521.78 L347.55,521.81 L348.67,521.85 L349.79,521.90 L350.91,521.94 L352.03,521.99 L353.15,522.04 L354.27,522.10 L355.39,522.16 L356.51,522.22 L357.63,522.28 L358.75,522.34 L359.87,522.41 L360.99,522.47 L362.11,522.54 L363.23,522.60 L364.35,522.67 L365.47,522.74 L366.59,522.81 L367.71,522.88 L368.83,522.95 L369.95,523.02 L371.07,523.09 L372.19,523.17 L373.31,523.24 L374.43,523.31 L375.55,523.38 L376.67,523.45 L377.79,523.52 L378.91,523.59 L380.03,523.66 L381.15,523.74 L382.27,523.81 L383.39,523.88 L384.51,523.95 L385.63,524.02 L386.75,524.09 L387.87,524.16 L388.99,524.22 L390.11,524.29 L391.23,524.36 L392.35,524.43 L393.47,524.50 L394.59,524.57 L395.71,524.63 L396.83,524.70 L397.95,524.77 L399.07,524.83 L400.19,524.90 L401.31,524.96 L402.43,525.03 L403.55,525.09 L404.67,525.15 L405.79,525.22 L406.91,525.28 L408.03,525.34 L409.15,525.41 L410.27,525.47 L411.39,525.53 L412.51,525.59 L413.63,525.65 L414.75,525.71 L415.87,525.77 L416.99,525.83 L418.11,525.89 L419.23,525.95 L420.35,526.01 L421.47,526.06 L422.59,526.12 L423.71,526.18 L424.83,526.23 L425.95,526.29 L427.07,526.35 L428.19,526.40 L429.31,526.46 L430.43,526.51 L431.55,526.57 L432.67,526.62 L433.79,526.67 L434.91,526.73 L436.03,526.78 L437.15,526.83 L438.27,526.88 L439.39,526.93 L440.51,526.99 L441.63,527.04 L442.75,527.09 L443.87,527.14 L444.99,527.19 L446.11,527.24 L447.23,527.29 L448.35,527.34 L449.47,527.38 L450.59,527.43 L451.71,527.48 L452.83,527.53 L453.95,527.58 L455.07,527.62 L456.19,527.67 L457.31,527.72 L458.43,527.76 L459.55,527.81 L460.67,527.85 L461.79,527.90 L462.91,527.94 L464.03,527.99 L465.15,528.03 L466.27,528.07 L467.39,528.12 L468.51,528.16 L469.63,528.21 L470.75,528.25 L471.87,528.29 L472.99,528.33 L474.11,528.37 L475.23,528.42 L476.35,528.46 L477.47,528.50 L478.59,528.54 L479.71,528.58 L480.83,528.62 L481.95,528.66 L483.07,528.70 L484.19,528.74 L485.31,528.78 L486.43,528.82 L487.55,528.86 L488.67,528.90 L489.79,528.94 L490.91,528.97 L492.03,529.01 L493.15,529.05 L494.27,529.09 L495.39,529.12 L496.51,529.16 L497.63,529.20 L498.75,529.23 L499.87,529.27 L500.99,529.31 L502.11,529.34 L503.23,529.38 L504.35,529.41 L505.47,529.45 L506.59,529.48 L507.71,529.52 L508.83,529.55 L509.95,529.59 L511.07,529.62 L512.19,529.66 L513.31,529.69 L514.43,529.72 L515.55,529.76 L516.67,529.79 L517.79,529.82 L518.91,529.86 L520.03,529.89 L521.15,529.92 L522.27,529.96 L523.39,529.99 L524.50,530.02 L525.62,530.05 L526.74,530.08 L527.86,530.11 L528.98,530.15 L530.10,530.18 L531.22,530.21 L532.34,530.24 L533.46,530.27 L534.58,530.30 L535.70,530.33 L536.82,530.36 L537.94,530.39"/>
<path d="M325.16,498.18 L326.28,497.24 L327.40,496.47 L328.52,495.82 L329.64,495.29 L330.76,494.84 L331.88,494.48 L333.00,494.19 L334.12,493.95 L335.24,493.76 L336.36,493.61 L337.48,493.50 L338.60,493.43 L339.71,493.38 L340.83,493.35 L341.95,493.35 L343.07,493.37 L344.19,493.41 L345.31,493.46 L346.43,493.52 L347.55,493.60 L348.67,493.69 L349.79,493.78 L350.91,493.89 L352.03,494.00 L353.15,494.12 L354.27,494.24 L355.39,494.37 L356.51,494.50 L357.63,494.64 L358.75,494.78 L359.87,494.93 L360.99,495.07 L362.11,495.22 L363.23,495.38 L364.35,495.53 L365.47,495.69 L366.59,495.84 L367.71,496.00 L368.83,496.16 L369.95,496.32 L371.07,496.48 L372.19,496.64 L373.31,496.80 L374.43,496.96 L375.55,497.12 L376.67,497.28 L377.79,497.44 L378.91,497.60 L380.03,497.76 L381.15,497.92 L382.27,498.08 L383.39,498.24 L384.51,498.40 L385.63,498.55 L386.75,498.71 L387.87,498.87 L388.99,499.02 L390.11,499.18 L391.23,499.33 L392.35,499.48 L393.47,499.64 L394.59,499.79 L395.71,499.94 L396.83,500.09 L397.95,500.24 L399.07,500.39 L400.19,500.53 L401.31,500.68 L402.43,500.83 L403.55,500.97 L404.67,501.11 L405.79,501.26 L406.91,501.40 L408.03,501.54 L409.15,501.68 L410.27,501.82 L411.39,501.96 L412.51,502.09 L413.63,502.23 L414.75,502.37 L415.87,502.50 L416.99,502.63 L418.11,502.77 L419.23,502.90 L420.35,503.03 L421.47,503.16 L422.59,503.29 L423.71,503.42 L424.83,503.54 L425.95,503.67 L427.07,503.79 L428.19,503.92 L429.31,504.04 L430.43,504.17 L431.55,504.29 L432.67,504.41 L433.79,504.53 L434.91,504.65 L436.03,504.77 L437.15,504.89 L438.27,505.00 L439.39,505.12 L440.51,505.23 L441.63,505.35 L442.75,505.46 L443.87,505.58 L444.99,505.69 L446.11,505.80 L447.23,505.91 L448.35,506.02 L449.47,506.13 L450.59,506.24 L451.71,506.35 L452.83,506.45 L453.95,506.56 L455.07,506.67 L456.19,506.77 L457.31,506.88 L458.43,506.98 L459.55,507.08 L460.67,507.18 L461.79,507.29 L462.91,507.39 L464.03,507.49 L465.15,507.59 L466.27,507.68 L467.39,507.78 L468.51,507.88 L469.63,507.98 L470.75,508.07 L471.87,508.17 L472.99,508.26 L474.11,508.36 L475.23,508.45 L476.35,508.55 L477.47,508.64 L478.59,508.73 L479.71,508.82 L480.83,508.91 L481.95,509.00 L483.07,509.09 L484.19,509.18 L485.31,509.27 L486.43,509.36 L487.55,509.45 L488.67,509.53 L489.79,509.62 L490.91,509.71 L492.03,509.79 L493.15,509.88 L494.27,509.96 L495.39,510.04 L496.51,510.13 L497.63,510.21 L498.75,510.29 L499.87,510.37 L500.99,510.46 L502.11,510.54 L503.23,510.62 L504.35,510.70 L505.47,510.78 L506.59,510.86 L507.71,510.93 L508.83,511.01 L509.95,511.09 L511.07,511.17 L512.19,511.24 L513.31,511.32 L514.43,511.40 L515.55,511.47 L516.67,511.55 L517.79,511.62 L518.91,511.70 L520.03,511.77 L521.15,511.84 L522.27,511.92 L523.39,511.99 L524.50,512.06 L525.62,512.13 L526.74,512.20 L527.86,512.27 L528.98,512.34 L530.10,512.41 L531.22,512.48 L532.34,512.55 L533.46,512.62 L534.58,512.69 L535.70,512.76 L536.82,512.83 L537.94,512.89"/>
<path d="M325.16,462.24 L326.28,460.58 L327.40,459.19 L328.52,458.05 L329.64,457.10 L330.76,456.31 L331.88,455.67 L333.00,455.14 L334.12,454.72 L335.24,454.38 L336.36,454.12 L337.48,453.93 L338.60,453.79 L339.71,453.70 L340.83,453.66 L341.95,453.66 L343.07,453.69 L344.19,453.76 L345.31,453.85 L346.43,453.96 L347.55,454.10 L348.67,454.25 L349.79,454.42 L350.91,454.61 L352.03,454.81 L353.15,455.02 L354.27,455.24 L355.39,455.47 L356.51,455.70 L357.63,455.95 L358.75,456.20 L359.87,456.46 L360.99,456.72 L362.11,456.99 L363.23,457.26 L364.35,457.53 L365.47,457.81 L366.59,458.08 L367.71,458.36 L368.83,458.65 L369.95,458.93 L371.07,459.21 L372.19,459.50 L373.31,459.78 L374.43,460.07 L375.55,460.35 L376.67,460.64 L377.79,460.93 L378.91,461.21 L380.03,461.49 L381.15,461.78 L382.27,462.06 L383.39,462.34 L384.51,462.62 L385.63,462.90 L386.75,463.18 L387.87,463.46 L388.99,463.74 L390.11,464.01 L391.23,464.29 L392.35,464.56 L393.47,464.83 L394.59,465.10 L395.71,465.37 L396.83,465.63 L397.95,465.90 L399.07,466.16 L400.19,466.42 L401.31,466.68 L402.43,466.94 L403.55,467.20 L404.67,467.46 L405.79,467.71 L406.91,467.96 L408.03,468.21 L409.15,468.46 L410.27,468.71 L411.39,468.95 L412.51,469.20 L413.63,469.44 L414.75,469.68 L415.87,469.92 L416.99,470.16 L418.11,470.39 L419.23,470.63 L420.35,470.86 L421.47,471.09 L422.59,471.32 L423.71,471.55 L424.83,471.78 L425.95,472.00 L427.07,472.22 L428.19,472.44 L429.31,472.66 L430.43,472.88 L431.55,473.10 L432.67,473.32 L433.79,473.53 L434.91,473.74 L436.03,473.95 L437.15,474.16 L438.27,474.37 L439.39,474.58 L440.51,474.78 L441.63,474.99 L442.75,475.19 L443.87,475.39 L444.99,475.59 L446.11,475.79 L447.23,475.99 L448.35,476.18 L449.47,476.38 L450.59,476.57 L451.71,476.76 L452.83,476.95 L453.95,477.14 L455.07,477.33 L456.19,477.51 L457.31,477.70 L458.43,477.88 L459.55,478.07 L460.67,478.25 L461.79,478.43 L462.91,478.61 L464.03,478.79 L465.15,478.96 L466.27,479.14 L467.39,479.31 L468.51,479.49 L469.63,479.66 L470.75,479.83 L471.87,480.00 L472.99,480.17 L474.11,480.34 L475.23,480.50 L476.35,480.67 L477.47,480.83 L478.59,481.00 L479.71,481.16 L480.83,481.32 L481.95,481.48 L483.07,481.64 L484.19,481.80 L485.31,481.96 L486.43,482.11 L487.55,482.27 L488.67,482.42 L489.79,482.58 L490.91,482.73 L492.03,482.88 L493.15,483.03 L494.27,483.18 L495.39,483.33 L496.51,483.48 L497.63,483.63 L498.75,483.77 L499.87,483.92 L500.99,484.07 L502.11,484.21 L503.23,484.35 L504.35,484.49 L505.47,484.64 L506.59,484.78 L507.71,484.92 L508.83,485.05 L509.95,485.19 L511.07,485.33 L512.19,485.47 L513.31,485.60 L514.43,485.74 L515.55,485.87 L516.67,486.00 L517.79,486.14 L518.91,486.27 L520.03,486.40 L521.15,486.53 L522.27,486.66 L523.39,486.79 L524.50,486.92 L525.62,487.04 L526.74,487.17 L527.86,487.30 L528.98,487.42 L530.10,487.55 L531.22,487.67 L532.34,487.79 L533.46,487.92 L534.58,488.04 L535.70,488.16 L536.82,488.28 L537.94,488.40"/>
<path d="M325.16,416.04 L326.28,413.43 L327.40,411.27 L328.52,409.48 L329.64,408.00 L330.76,406.77 L331.88,405.76 L333.00,404.94 L334.12,404.28 L335.24,403.75 L336.36,403.34 L337.48,403.04 L338.60,402.83 L339.71,402.69 L340.83,402.63 L341.95,402.63 L343.07,402.68 L344.19,402.78 L345.31,402.92 L346.43,403.10 L347.55,403.31 L348.67,403.55 L349.79,403.81 L350.91,404.10 L352.03,404.42 L353.15,404.74 L354.27,405.09 L355.39,405.45 L356.51,405.82 L357.63,406.20 L358.75,406.60 L359.87,407.00 L360.99,407.41 L362.11,407.82 L363.23,408.25 L364.35,408.67 L365.47,409.10 L366.59,409.54 L367.71,409.98 L368.83,410.42 L369.95,410.86 L371.07,411.30 L372.19,411.75 L373.31,412.19 L374.43,412.64 L375.55,413.09 L376.67,413.53 L377.79,413.98 L378.91,414.42 L380.03,414.87 L381.15,415.31 L382.27,415.75 L383.39,416.19 L384.51,416.63 L385.63,417.07 L386.75,417.51 L387.87,417.94 L388.99,418.37 L390.11,418.80 L391.23,419.23 L392.35,419.65 L393.47,420.08 L394.59,420.50 L395.71,420.92 L396.83,421.34 L397.95,421.75 L399.07,422.16 L400.19,422.57 L401.31,422.98 L402.43,423.38 L403.55,423.78 L404.67,424.18 L405.79,424.58 L406.91,424.97 L408.03,425.36 L409.15,425.75 L410.27,426.14 L411.39,426.52 L412.51,426.90 L413.63,427.28 L414.75,427.66 L415.87,428.03 L416.99,428.40 L418.11,428.77 L419.23,429.14 L420.35,429.50 L421.47,429.86 L422.59,430.22 L423.71,430.58 L424.83,430.93 L425.95,431.28 L427.07,431.63 L428.19,431.98 L429.31,432.32 L430.43,432.66 L431.55,433.00 L432.67,433.34 L433.79,433.67 L434.91,434.00 L436.03,434.33 L437.15,434.66 L438.27,434.99 L439.39,435.31 L440.51,435.63 L441.63,435.95 L442.75,436.27 L443.87,436.58 L444.99,436.89 L446.11,437.20 L447.23,437.51 L448.35,437.81 L449.47,438.12 L450.59,438.42 L451.71,438.72 L452.83,439.02 L453.95,439.31 L455.07,439.61 L456.19,439.90 L457.31,440.19 L458.43,440.47 L459.55,440.76 L460.67,441.04 L461.79,441.33 L462.91,441.61 L464.03,441.88 L465.15,442.16 L466.27,442.43 L467.39,442.71 L468.51,442.98 L469.63,443.25 L470.75,443.52 L471.87,443.78 L472.99,444.05 L474.11,444.31 L475.23,444.57 L476.35,444.83 L477.47,445.08 L478.59,445.34 L479.71,445.59 L480.83,445.85 L481.95,446.10 L483.07,446.35 L484.19,446.59 L485.31,446.84 L486.43,447.09 L487.55,447.33 L488.67,447.57 L489.79,447.81 L490.91,448.05 L492.03,448.29 L493.15,448.52 L494.27,448.76 L495.39,448.99 L496.51,449.22 L497.63,449.45 L498.75,449.68 L499.87,449.91 L500.99,450.13 L502.11,450.36 L503.23,450.58 L504.35,450.80 L505.47,451.02 L506.59,451.24 L507.71,451.46 L508.83,451.68 L509.95,451.89 L511.07,452.11 L512.19,452.32 L513.31,452.53 L514.43,452.75 L515.55,452.95 L516.67,453.16 L517.79,453.37 L518.91,453.58 L520.03,453.78 L521.15,453.98 L522.27,454.19 L523.39,454.39 L524.50,454.59 L525.62,454.79 L526.74,454.99 L527.86,455.18 L528.98,455.38 L530.10,455.57 L531.22,455.77 L532.34,455.96 L533.46,456.15 L534.58,456.34 L535.70,456.53 L536.82,456.72 L537.94,456.91"/>
<path d="M325.16,359.56 L326.28,355.81 L327.40,352.70 L328.52,350.12 L329.64,347.98 L330.76,346.22 L331.88,344.76 L333.00,343.58 L334.12,342.63 L335.24,341.87 L336.36,341.28 L337.48,340.85 L338.60,340.54 L339.71,340.35 L340.83,340.26 L341.95,340.25 L343.07,340.33 L344.19,340.47 L345.31,340.67 L346.43,340.93 L347.55,341.23 L348.67,341.58 L349.79,341.96 L350.91,342.38 L352.03,342.83 L353.15,343.30 L354.27,343.80 L355.39,344.32 L356.51,344.85 L357.63,345.40 L358.75,345.97 L359.87,346.55 L360.99,347.14 L362.11,347.74 L363.23,348.34 L364.35,348.96 L365.47,349.58 L366.59,350.21 L367.71,350.84 L368.83,351.47 L369.95,352.11 L371.07,352.75 L372.19,353.39 L373.31,354.03 L374.43,354.67 L375.55,355.31 L376.67,355.96 L377.79,356.60 L378.91,357.24 L380.03,357.88 L381.15,358.52 L382.27,359.15 L383.39,359.79 L384.51,360.42 L385.63,361.05 L386.75,361.68 L387.87,362.30 L388.99,362.92 L390.11,363.54 L391.23,364.16 L392.35,364.77 L393.47,365.38 L394.59,365.99 L395.71,366.59 L396.83,367.19 L397.95,367.79 L399.07,368.38 L400.19,368.97 L401.31,369.56 L402.43,370.14 L403.55,370.72 L404.67,371.29 L405.79,371.86 L406.91,372.43 L408.03,372.99 L409.15,373.55 L410.27,374.11 L411.39,374.66 L412.51,375.21 L413.63,375.76 L414.75,376.30 L415.87,376.84 L416.99,377.37 L418.11,377.90 L419.23,378.43 L420.35,378.95 L421.47,379.47 L422.59,379.99 L423.71,380.50 L424.83,381.01 L425.95,381.52 L427.07,382.02 L428.19,382.52 L429.31,383.01 L430.43,383.50 L431.55,383.99 L432.67,384.48 L433.79,384.96 L434.91,385.44 L436.03,385.91 L437.15,386.38 L438.27,386.85 L439.39,387.32 L440.51,387.78 L441.63,388.24 L442.75,388.69 L443.87,389.14 L444.99,389.59 L446.11,390.04 L447.23,390.48 L448.35,390.92 L449.47,391.36 L450.59,391.79 L451.71,392.23 L452.83,392.65 L453.95,393.08 L455.07,393.50 L456.19,393.92 L457.31,394.34 L458.43,394.75 L459.55,395.16 L460.67,395.57 L461.79,395.98 L462.91,396.38 L464.03,396.78 L465.15,397.18 L466.27,397.58 L467.39,397.97 L468.51,398.36 L469.63,398.75 L470.75,399.13 L471.87,399.51 L472.99,399.89 L474.11,400.27 L475.23,400.65 L476.35,401.02 L477.47,401.39 L478.59,401.76 L479.71,402.13 L480.83,402.49 L481.95,402.85 L483.07,403.21 L484.19,403.57 L485.31,403.92 L486.43,404.27 L487.55,404.62 L488.67,404.97 L489.79,405.32 L490.91,405.66 L492.03,406.00 L493.15,406.34 L494.27,406.68 L495.39,407.02 L496.51,407.35 L497.63,407.68 L498.75,408.01 L499.87,408.34 L500.99,408.66 L502.11,408.99 L503.23,409.31 L504.35,409.63 L505.47,409.95 L506.59,410.26 L507.71,410.58 L508.83,410.89 L509.95,411.20 L511.07,411.51 L512.19,411.81 L513.31,412.12 L514.43,412.42 L515.55,412.72 L516.67,413.02 L517.79,413.32 L518.91,413.62 L520.03,413.91 L521.15,414.21 L522.27,414.50 L523.39,414.79 L524.50,415.08 L525.62,415.36 L526.74,415.65 L527.86,415.93 L528.98,416.21 L530.10,416.49 L531.22,416.77 L532.34,417.05 L533.46,417.33 L534.58,417.60 L535.70,417.87 L536.82,418.15 L537.94,418.42"/>
<path d="M422.56,320.60 L423.49,321.18 L424.61,321.87 L425.73,322.56 L426.85,323.25 L427.97,323.93 L429.09,324.60 L430.21,325.27 L431.33,325.94 L432.45,326.60 L433.57,327.26 L434.69,327.91 L435.81,328.55 L436.93,329.20 L438.05,329.83 L439.17,330.47 L440.29,331.10 L441.41,331.72 L442.53,332.34 L443.65,332.96 L444.77,333.57 L445.89,334.18 L447.01,334.79 L448.13,335.39 L449.25,335.98 L450.36,336.57 L451.48,337.16 L452.60,337.74 L453.72,338.32 L454.84,338.90 L455.96,339.47 L457.08,340.04 L458.20,340.61 L459.32,341.17 L460.44,341.72 L461.56,342.28 L462.68,342.83 L463.80,343.37 L464.92,343.91 L466.04,344.45 L467.16,344.99 L468.28,345.52 L469.40,346.05 L470.52,346.57 L471.64,347.10 L472.76,347.61 L473.88,348.13 L475.00,348.64 L476.12,349.15 L477.24,349.65 L478.36,350.16 L479.48,350.65 L480.60,351.15 L481.72,351.64 L482.84,352.13 L483.96,352.62 L485.08,353.10 L486.20,353.58 L487.32,354.06 L488.44,354.53 L489.56,355.00 L490.68,355.47 L491.80,355.94 L492.92,356.40 L494.04,356.86 L495.16,357.32 L496.28,357.77 L497.40,358.22 L498.52,358.67 L499.64,359.12 L500.76,359.56 L501.88,360.00 L503.00,360.44 L504.12,360.88 L505.24,361.31 L506.36,361.74 L507.48,362.17 L508.60,362.59 L509.72,363.02 L510.84,363.44 L511.96,363.86 L513.08,364.27 L514.20,364.69 L515.32,365.10 L516.44,365.51 L517.56,365.91 L518.68,366.32 L519.80,366.72 L520.92,367.12 L522.04,367.52 L523.16,367.91 L524.28,368.30 L525.40,368.69 L526.52,369.08 L527.64,369.47 L528.76,369.85 L529.88,370.23 L531.00,370.61 L532.12,370.99 L533.24,371.37 L534.36,371.74 L535.48,372.11 L536.60,372.48 L537.72,372.85 L537.94,372.93"/>
</g>
<g clip-path="url(#c140495875371712)">
<text x="368.30" y="342.20" text-anchor="middle" class="l">600</text>
<text x="361.50" y="401.20" text-anchor="middle" class="l">500</text>
<text x="362.00" y="451.40" text-anchor="middle" class="l">400</text>
<text x="362.50" y="486.70" text-anchor="middle" class="l">300</text>
<text x="363.40" y="516.50" text-anchor="middle" class="l">200</text>
<text x="497.30" y="350.90" text-anchor="middle" class="l">700</text>
</g>
<rect x="42.40" y="613.00" width="221.10" height="220.90" fill="none" stroke="#858585" stroke-width="0.85"/>
<path d="M46.65,833.90v-1.9M46.65,613.00v1.9M57.84,833.90v-1.9M57.84,613.00v1.9M69.03,833.90v-1.9M69.03,613.00v1.9M80.22,833.90v-3.1M80.22,613.00v3.1M91.41,833.90v-1.9M91.41,613.00v1.9M102.60,833.90v-1.9M102.60,613.00v1.9M113.79,833.90v-1.9M113.79,613.00v1.9M124.98,833.90v-3.1M124.98,613.00v3.1M136.17,833.90v-1.9M136.17,613.00v1.9M147.36,833.90v-1.9M147.36,613.00v1.9M158.54,833.90v-1.9M158.54,613.00v1.9M169.73,833.90v-3.1M169.73,613.00v3.1M180.92,833.90v-1.9M180.92,613.00v1.9M192.11,833.90v-1.9M192.11,613.00v1.9M203.30,833.90v-1.9M203.30,613.00v1.9M214.49,833.90v-3.1M214.49,613.00v3.1M225.68,833.90v-1.9M225.68,613.00v1.9M236.87,833.90v-1.9M236.87,613.00v1.9M248.06,833.90v-1.9M248.06,613.00v1.9M259.25,833.90v-3.1M259.25,613.00v3.1M42.40,829.65h1.9M263.50,829.65h-1.9M42.40,818.47h1.9M263.50,818.47h-1.9M42.40,807.29h1.9M263.50,807.29h-1.9M42.40,796.11h1.9M263.50,796.11h-1.9M42.40,784.94h3.1M263.50,784.94h-3.1M42.40,773.76h1.9M263.50,773.76h-1.9M42.40,762.58h1.9M263.50,762.58h-1.9M42.40,751.40h1.9M263.50,751.40h-1.9M42.40,740.22h1.9M263.50,740.22h-1.9M42.40,729.04h3.1M263.50,729.04h-3.1M42.40,717.86h1.9M263.50,717.86h-1.9M42.40,706.68h1.9M263.50,706.68h-1.9M42.40,695.50h1.9M263.50,695.50h-1.9M42.40,684.32h1.9M263.50,684.32h-1.9M42.40,673.14h3.1M263.50,673.14h-3.1M42.40,661.96h1.9M263.50,661.96h-1.9M42.40,650.79h1.9M263.50,650.79h-1.9M42.40,639.61h1.9M263.50,639.61h-1.9M42.40,628.43h1.9M263.50,628.43h-1.9M42.40,617.25h3.1M263.50,617.25h-3.1" stroke="#858585" stroke-width="0.9" fill="none"/>
<text x="80.22" y="848.70" text-anchor="middle" class="t">2</text>
<text x="124.98" y="848.70" text-anchor="middle" class="t">4</text>
<text x="169.73" y="848.70" text-anchor="middle" class="t">6</text>
<text x="214.49" y="848.70" text-anchor="middle" class="t">8</text>
<text x="259.25" y="848.70" text-anchor="middle" class="t">10</text>
<text x="37.90" y="788.84" text-anchor="end" class="t">5</text>
<text x="37.90" y="732.94" text-anchor="end" class="t">10</text>
<text x="37.90" y="677.04" text-anchor="end" class="t">15</text>
<text x="37.90" y="621.15" text-anchor="end" class="t">20</text>
<text x="152.95" y="870.50" text-anchor="middle" class="ax"><tspan font-style="italic">α</tspan></text>
<text transform="translate(13.80,723.75) rotate(-90)" text-anchor="middle" class="ax">A</text>
<text x="114.85" y="607.10" class="ti" style="white-space:pre"><tspan font-style="italic">v</tspan><tspan dx="1.0">=0.3, </tspan><tspan font-style="italic" dx="0.5">G</tspan>=30</text>
<clipPath id="c140495875371136"><rect x="42.40" y="613.00" width="221.10" height="220.90"/></clipPath>
<g fill="none" stroke="#000" stroke-width="1.42" stroke-linecap="butt" stroke-linejoin="round">
<path d="M46.65,822.90 L47.77,822.47 L48.89,822.10 L50.01,821.79 L51.13,821.53 L52.25,821.30 L53.37,821.12 L54.48,820.96 L55.60,820.83 L56.72,820.72 L57.84,820.63 L58.96,820.56 L60.08,820.50 L61.20,820.46 L62.32,820.43 L63.44,820.40 L64.55,820.39 L65.67,820.38 L66.79,820.39 L67.91,820.39 L69.03,820.41 L70.15,820.42 L71.27,820.45 L72.39,820.47 L73.51,820.50 L74.63,820.54 L75.74,820.57 L76.86,820.61 L77.98,820.65 L79.10,820.70 L80.22,820.74 L81.34,820.79 L82.46,820.84 L83.58,820.89 L84.70,820.94 L85.81,820.99 L86.93,821.04 L88.05,821.10 L89.17,821.15 L90.29,821.21 L91.41,821.26 L92.53,821.32 L93.65,821.37 L94.77,821.43 L95.88,821.49 L97.00,821.55 L98.12,821.60 L99.24,821.66 L100.36,821.72 L101.48,821.78 L102.60,821.83 L103.72,821.89 L104.84,821.95 L105.96,822.01 L107.07,822.07 L108.19,822.12 L109.31,822.18 L110.43,822.24 L111.55,822.30 L112.67,822.35 L113.79,822.41 L114.91,822.47 L116.03,822.52 L117.14,822.58 L118.26,822.63 L119.38,822.69 L120.50,822.75 L121.62,822.80 L122.74,822.86 L123.86,822.91 L124.98,822.97 L126.10,823.02 L127.21,823.07 L128.33,823.13 L129.45,823.18 L130.57,823.23 L131.69,823.29 L132.81,823.34 L133.93,823.39 L135.05,823.44 L136.17,823.49 L137.29,823.55 L138.40,823.60 L139.52,823.65 L140.64,823.70 L141.76,823.75 L142.88,823.80 L144.00,823.85 L145.12,823.90 L146.24,823.95 L147.36,823.99 L148.47,824.04 L149.59,824.09 L150.71,824.14 L151.83,824.19 L152.95,824.23 L154.07,824.28 L155.19,824.33 L156.31,824.37 L157.43,824.42 L158.54,824.47 L159.66,824.51 L160.78,824.56 L161.90,824.60 L163.02,824.65 L164.14,824.69 L165.26,824.73 L166.38,824.78 L167.50,824.82 L168.61,824.86 L169.73,824.91 L170.85,824.95 L171.97,824.99 L173.09,825.03 L174.21,825.08 L175.33,825.12 L176.45,825.16 L177.57,825.20 L178.69,825.24 L179.80,825.28 L180.92,825.32 L182.04,825.36 L183.16,825.40 L184.28,825.44 L185.40,825.48 L186.52,825.52 L187.64,825.56 L188.76,825.60 L189.87,825.64 L190.99,825.68 L192.11,825.71 L193.23,825.75 L194.35,825.79 L195.47,825.83 L196.59,825.86 L197.71,825.90 L198.83,825.94 L199.94,825.97 L201.06,826.01 L202.18,826.05 L203.30,826.08 L204.42,826.12 L205.54,826.15 L206.66,826.19 L207.78,826.22 L208.90,826.26 L210.02,826.29 L211.13,826.33 L212.25,826.36 L213.37,826.40 L214.49,826.43 L215.61,826.46 L216.73,826.50 L217.85,826.53 L218.97,826.56 L220.09,826.60 L221.20,826.63 L222.32,826.66 L223.44,826.69 L224.56,826.72 L225.68,826.76 L226.80,826.79 L227.92,826.82 L229.04,826.85 L230.16,826.88 L231.27,826.91 L232.39,826.95 L233.51,826.98 L234.63,827.01 L235.75,827.04 L236.87,827.07 L237.99,827.10 L239.11,827.13 L240.23,827.16 L241.35,827.19 L242.46,827.22 L243.58,827.25 L244.70,827.28 L245.82,827.30 L246.94,827.33 L248.06,827.36 L249.18,827.39 L250.30,827.42 L251.42,827.45 L252.53,827.48 L253.65,827.50 L254.77,827.53 L255.89,827.56 L257.01,827.59 L258.13,827.61 L259.25,827.64"/>
<path d="M46.65,800.50 L47.77,799.51 L48.89,798.68 L50.01,797.98 L51.13,797.39 L52.25,796.90 L53.37,796.48 L54.48,796.13 L55.60,795.83 L56.72,795.59 L57.84,795.39 L58.96,795.23 L60.08,795.10 L61.20,795.00 L62.32,794.92 L63.44,794.87 L64.55,794.84 L65.67,794.83 L66.79,794.83 L67.91,794.85 L69.03,794.87 L70.15,794.92 L71.27,794.97 L72.39,795.03 L73.51,795.09 L74.63,795.17 L75.74,795.25 L76.86,795.34 L77.98,795.43 L79.10,795.53 L80.22,795.63 L81.34,795.74 L82.46,795.84 L83.58,795.96 L84.70,796.07 L85.81,796.19 L86.93,796.31 L88.05,796.43 L89.17,796.55 L90.29,796.67 L91.41,796.80 L92.53,796.93 L93.65,797.05 L94.77,797.18 L95.88,797.31 L97.00,797.44 L98.12,797.57 L99.24,797.70 L100.36,797.83 L101.48,797.96 L102.60,798.09 L103.72,798.22 L104.84,798.35 L105.96,798.48 L107.07,798.61 L108.19,798.74 L109.31,798.87 L110.43,799.00 L111.55,799.13 L112.67,799.25 L113.79,799.38 L114.91,799.51 L116.03,799.64 L117.14,799.76 L118.26,799.89 L119.38,800.01 L120.50,800.14 L121.62,800.26 L122.74,800.39 L123.86,800.51 L124.98,800.63 L126.10,800.76 L127.21,800.88 L128.33,801.00 L129.45,801.12 L130.57,801.24 L131.69,801.36 L132.81,801.47 L133.93,801.59 L135.05,801.71 L136.17,801.82 L137.29,801.94 L138.40,802.06 L139.52,802.17 L140.64,802.28 L141.76,802.40 L142.88,802.51 L144.00,802.62 L145.12,802.73 L146.24,802.84 L147.36,802.95 L148.47,803.06 L149.59,803.17 L150.71,803.27 L151.83,803.38 L152.95,803.49 L154.07,803.59 L155.19,803.70 L156.31,803.80 L157.43,803.90 L158.54,804.01 L159.66,804.11 L160.78,804.21 L161.90,804.31 L163.02,804.41 L164.14,804.51 L165.26,804.61 L166.38,804.71 L167.50,804.81 L168.61,804.91 L169.73,805.00 L170.85,805.10 L171.97,805.19 L173.09,805.29 L174.21,805.38 L175.33,805.48 L176.45,805.57 L177.57,805.66 L178.69,805.75 L179.80,805.85 L180.92,805.94 L182.04,806.03 L183.16,806.12 L184.28,806.21 L185.40,806.30 L186.52,806.38 L187.64,806.47 L188.76,806.56 L189.87,806.64 L190.99,806.73 L192.11,806.82 L193.23,806.90 L194.35,806.99 L195.47,807.07 L196.59,807.15 L197.71,807.24 L198.83,807.32 L199.94,807.40 L201.06,807.48 L202.18,807.56 L203.30,807.64 L204.42,807.72 L205.54,807.80 L206.66,807.88 L207.78,807.96 L208.90,808.04 L210.02,808.12 L211.13,808.20 L212.25,808.27 L213.37,808.35 L214.49,808.43 L215.61,808.50 L216.73,808.58 L217.85,808.65 L218.97,808.73 L220.09,808.80 L221.20,808.87 L222.32,808.95 L223.44,809.02 L224.56,809.09 L225.68,809.16 L226.80,809.24 L227.92,809.31 L229.04,809.38 L230.16,809.45 L231.27,809.52 L232.39,809.59 L233.51,809.66 L234.63,809.73 L235.75,809.79 L236.87,809.86 L237.99,809.93 L239.11,810.00 L240.23,810.07 L241.35,810.13 L242.46,810.20 L243.58,810.26 L244.70,810.33 L245.82,810.40 L246.94,810.46 L248.06,810.52 L249.18,810.59 L250.30,810.65 L251.42,810.72 L252.53,810.78 L253.65,810.84 L254.77,810.91 L255.89,810.97 L257.01,811.03 L258.13,811.09 L259.25,811.15"/>
<path d="M46.65,769.12 L47.77,767.37 L48.89,765.90 L50.01,764.66 L51.13,763.61 L52.25,762.72 L53.37,761.98 L54.48,761.36 L55.60,760.83 L56.72,760.40 L57.84,760.04 L58.96,759.76 L60.08,759.53 L61.20,759.35 L62.32,759.22 L63.44,759.12 L64.55,759.07 L65.67,759.05 L66.79,759.05 L67.91,759.08 L69.03,759.13 L70.15,759.20 L71.27,759.29 L72.39,759.40 L73.51,759.52 L74.63,759.65 L75.74,759.80 L76.86,759.96 L77.98,760.12 L79.10,760.29 L80.22,760.47 L81.34,760.66 L82.46,760.85 L83.58,761.05 L84.70,761.26 L85.81,761.46 L86.93,761.68 L88.05,761.89 L89.17,762.11 L90.29,762.33 L91.41,762.55 L92.53,762.78 L93.65,763.00 L94.77,763.23 L95.88,763.46 L97.00,763.69 L98.12,763.92 L99.24,764.15 L100.36,764.38 L101.48,764.61 L102.60,764.84 L103.72,765.07 L104.84,765.31 L105.96,765.54 L107.07,765.77 L108.19,766.00 L109.31,766.23 L110.43,766.46 L111.55,766.69 L112.67,766.92 L113.79,767.14 L114.91,767.37 L116.03,767.60 L117.14,767.82 L118.26,768.05 L119.38,768.27 L120.50,768.49 L121.62,768.71 L122.74,768.93 L123.86,769.15 L124.98,769.37 L126.10,769.59 L127.21,769.80 L128.33,770.02 L129.45,770.23 L130.57,770.44 L131.69,770.65 L132.81,770.86 L133.93,771.07 L135.05,771.28 L136.17,771.49 L137.29,771.69 L138.40,771.90 L139.52,772.10 L140.64,772.30 L141.76,772.50 L142.88,772.70 L144.00,772.90 L145.12,773.10 L146.24,773.29 L147.36,773.49 L148.47,773.68 L149.59,773.87 L150.71,774.06 L151.83,774.25 L152.95,774.44 L154.07,774.63 L155.19,774.82 L156.31,775.00 L157.43,775.18 L158.54,775.37 L159.66,775.55 L160.78,775.73 L161.90,775.91 L163.02,776.09 L164.14,776.26 L165.26,776.44 L166.38,776.62 L167.50,776.79 L168.61,776.96 L169.73,777.14 L170.85,777.31 L171.97,777.48 L173.09,777.64 L174.21,777.81 L175.33,777.98 L176.45,778.14 L177.57,778.31 L178.69,778.47 L179.80,778.64 L180.92,778.80 L182.04,778.96 L183.16,779.12 L184.28,779.28 L185.40,779.43 L186.52,779.59 L187.64,779.75 L188.76,779.90 L189.87,780.06 L190.99,780.21 L192.11,780.36 L193.23,780.51 L194.35,780.66 L195.47,780.81 L196.59,780.96 L197.71,781.11 L198.83,781.25 L199.94,781.40 L201.06,781.55 L202.18,781.69 L203.30,781.83 L204.42,781.98 L205.54,782.12 L206.66,782.26 L207.78,782.40 L208.90,782.54 L210.02,782.68 L211.13,782.81 L212.25,782.95 L213.37,783.09 L214.49,783.22 L215.61,783.36 L216.73,783.49 L217.85,783.62 L218.97,783.76 L220.09,783.89 L221.20,784.02 L222.32,784.15 L223.44,784.28 L224.56,784.41 L225.68,784.53 L226.80,784.66 L227.92,784.79 L229.04,784.91 L230.16,785.04 L231.27,785.16 L232.39,785.29 L233.51,785.41 L234.63,785.53 L235.75,785.66 L236.87,785.78 L237.99,785.90 L239.11,786.02 L240.23,786.14 L241.35,786.25 L242.46,786.37 L243.58,786.49 L244.70,786.61 L245.82,786.72 L246.94,786.84 L248.06,786.95 L249.18,787.07 L250.30,787.18 L251.42,787.29 L252.53,787.41 L253.65,787.52 L254.77,787.63 L255.89,787.74 L257.01,787.85 L258.13,787.96 L259.25,788.07"/>
<path d="M46.65,728.79 L47.77,726.05 L48.89,723.75 L50.01,721.81 L51.13,720.17 L52.25,718.79 L53.37,717.63 L54.48,716.65 L55.60,715.84 L56.72,715.16 L57.84,714.60 L58.96,714.15 L60.08,713.79 L61.20,713.51 L62.32,713.31 L63.44,713.17 L64.55,713.08 L65.67,713.04 L66.79,713.05 L67.91,713.09 L69.03,713.18 L70.15,713.29 L71.27,713.43 L72.39,713.59 L73.51,713.78 L74.63,713.99 L75.74,714.22 L76.86,714.46 L77.98,714.72 L79.10,714.99 L80.22,715.27 L81.34,715.57 L82.46,715.87 L83.58,716.18 L84.70,716.50 L85.81,716.82 L86.93,717.15 L88.05,717.49 L89.17,717.83 L90.29,718.17 L91.41,718.52 L92.53,718.87 L93.65,719.22 L94.77,719.58 L95.88,719.94 L97.00,720.29 L98.12,720.65 L99.24,721.01 L100.36,721.38 L101.48,721.74 L102.60,722.10 L103.72,722.46 L104.84,722.82 L105.96,723.18 L107.07,723.55 L108.19,723.91 L109.31,724.27 L110.43,724.62 L111.55,724.98 L112.67,725.34 L113.79,725.69 L114.91,726.05 L116.03,726.40 L117.14,726.75 L118.26,727.10 L119.38,727.45 L120.50,727.80 L121.62,728.14 L122.74,728.49 L123.86,728.83 L124.98,729.17 L126.10,729.51 L127.21,729.85 L128.33,730.18 L129.45,730.52 L130.57,730.85 L131.69,731.18 L132.81,731.51 L133.93,731.83 L135.05,732.16 L136.17,732.48 L137.29,732.80 L138.40,733.12 L139.52,733.44 L140.64,733.75 L141.76,734.07 L142.88,734.38 L144.00,734.69 L145.12,734.99 L146.24,735.30 L147.36,735.60 L148.47,735.91 L149.59,736.21 L150.71,736.51 L151.83,736.80 L152.95,737.10 L154.07,737.39 L155.19,737.68 L156.31,737.97 L157.43,738.26 L158.54,738.54 L159.66,738.83 L160.78,739.11 L161.90,739.39 L163.02,739.67 L164.14,739.95 L165.26,740.22 L166.38,740.50 L167.50,740.77 L168.61,741.04 L169.73,741.31 L170.85,741.57 L171.97,741.84 L173.09,742.10 L174.21,742.36 L175.33,742.62 L176.45,742.88 L177.57,743.14 L178.69,743.40 L179.80,743.65 L180.92,743.90 L182.04,744.15 L183.16,744.40 L184.28,744.65 L185.40,744.90 L186.52,745.14 L187.64,745.39 L188.76,745.63 L189.87,745.87 L190.99,746.11 L192.11,746.35 L193.23,746.58 L194.35,746.82 L195.47,747.05 L196.59,747.28 L197.71,747.51 L198.83,747.74 L199.94,747.97 L201.06,748.20 L202.18,748.42 L203.30,748.65 L204.42,748.87 L205.54,749.09 L206.66,749.31 L207.78,749.53 L208.90,749.75 L210.02,749.96 L211.13,750.18 L212.25,750.39 L213.37,750.61 L214.49,750.82 L215.61,751.03 L216.73,751.24 L217.85,751.44 L218.97,751.65 L220.09,751.86 L221.20,752.06 L222.32,752.26 L223.44,752.47 L224.56,752.67 L225.68,752.87 L226.80,753.07 L227.92,753.26 L229.04,753.46 L230.16,753.66 L231.27,753.85 L232.39,754.04 L233.51,754.24 L234.63,754.43 L235.75,754.62 L236.87,754.81 L237.99,755.00 L239.11,755.18 L240.23,755.37 L241.35,755.56 L242.46,755.74 L243.58,755.92 L244.70,756.11 L245.82,756.29 L246.94,756.47 L248.06,756.65 L249.18,756.83 L250.30,757.00 L251.42,757.18 L252.53,757.36 L253.65,757.53 L254.77,757.71 L255.89,757.88 L257.01,758.05 L258.13,758.22 L259.25,758.39"/>
<path d="M46.65,679.49 L47.77,675.54 L48.89,672.23 L50.01,669.44 L51.13,667.08 L52.25,665.09 L53.37,663.42 L54.48,662.01 L55.60,660.84 L56.72,659.86 L57.84,659.06 L58.96,658.41 L60.08,657.90 L61.20,657.50 L62.32,657.20 L63.44,656.99 L64.55,656.87 L65.67,656.81 L66.79,656.82 L67.91,656.89 L69.03,657.01 L70.15,657.17 L71.27,657.37 L72.39,657.61 L73.51,657.88 L74.63,658.18 L75.74,658.51 L76.86,658.86 L77.98,659.23 L79.10,659.62 L80.22,660.03 L81.34,660.45 L82.46,660.88 L83.58,661.33 L84.70,661.79 L85.81,662.26 L86.93,662.73 L88.05,663.22 L89.17,663.71 L90.29,664.20 L91.41,664.70 L92.53,665.21 L93.65,665.72 L94.77,666.23 L95.88,666.74 L97.00,667.26 L98.12,667.78 L99.24,668.30 L100.36,668.82 L101.48,669.34 L102.60,669.86 L103.72,670.38 L104.84,670.90 L105.96,671.42 L107.07,671.94 L108.19,672.46 L109.31,672.98 L110.43,673.49 L111.55,674.01 L112.67,674.52 L113.79,675.03 L114.91,675.54 L116.03,676.05 L117.14,676.56 L118.26,677.06 L119.38,677.56 L120.50,678.06 L121.62,678.56 L122.74,679.06 L123.86,679.55 L124.98,680.04 L126.10,680.53 L127.21,681.01 L128.33,681.50 L129.45,681.98 L130.57,682.46 L131.69,682.93 L132.81,683.40 L133.93,683.87 L135.05,684.34 L136.17,684.81 L137.29,685.27 L138.40,685.73 L139.52,686.18 L140.64,686.64 L141.76,687.09 L142.88,687.54 L144.00,687.98 L145.12,688.43 L146.24,688.87 L147.36,689.30 L148.47,689.74 L149.59,690.17 L150.71,690.60 L151.83,691.03 L152.95,691.45 L154.07,691.88 L155.19,692.30 L156.31,692.71 L157.43,693.13 L158.54,693.54 L159.66,693.95 L160.78,694.35 L161.90,694.76 L163.02,695.16 L164.14,695.56 L165.26,695.95 L166.38,696.35 L167.50,696.74 L168.61,697.13 L169.73,697.52 L170.85,697.90 L171.97,698.28 L173.09,698.66 L174.21,699.04 L175.33,699.41 L176.45,699.79 L177.57,700.16 L178.69,700.53 L179.80,700.89 L180.92,701.25 L182.04,701.62 L183.16,701.98 L184.28,702.33 L185.40,702.69 L186.52,703.04 L187.64,703.39 L188.76,703.74 L189.87,704.09 L190.99,704.43 L192.11,704.77 L193.23,705.11 L194.35,705.45 L195.47,705.79 L196.59,706.12 L197.71,706.45 L198.83,706.78 L199.94,707.11 L201.06,707.44 L202.18,707.76 L203.30,708.09 L204.42,708.41 L205.54,708.73 L206.66,709.04 L207.78,709.36 L208.90,709.67 L210.02,709.98 L211.13,710.29 L212.25,710.60 L213.37,710.91 L214.49,711.21 L215.61,711.51 L216.73,711.82 L217.85,712.11 L218.97,712.41 L220.09,712.71 L221.20,713.00 L222.32,713.30 L223.44,713.59 L224.56,713.88 L225.68,714.16 L226.80,714.45 L227.92,714.74 L229.04,715.02 L230.16,715.30 L231.27,715.58 L232.39,715.86 L233.51,716.14 L234.63,716.41 L235.75,716.69 L236.87,716.96 L237.99,717.23 L239.11,717.50 L240.23,717.77 L241.35,718.03 L242.46,718.30 L243.58,718.56 L244.70,718.83 L245.82,719.09 L246.94,719.35 L248.06,719.61 L249.18,719.86 L250.30,720.12 L251.42,720.37 L252.53,720.63 L253.65,720.88 L254.77,721.13 L255.89,721.38 L257.01,721.63 L258.13,721.87 L259.25,722.12"/>
<path d="M46.65,621.22 L47.46,617.25"/>
<path d="M117.16,617.25 L118.26,617.92 L119.38,618.61 L120.50,619.29 L121.62,619.97 L122.74,620.64 L123.86,621.31 L124.98,621.98 L126.10,622.64 L127.21,623.30 L128.33,623.96 L129.45,624.62 L130.57,625.27 L131.69,625.91 L132.81,626.56 L133.93,627.20 L135.05,627.83 L136.17,628.46 L137.29,629.09 L138.40,629.72 L139.52,630.34 L140.64,630.96 L141.76,631.57 L142.88,632.18 L144.00,632.79 L145.12,633.39 L146.24,633.99 L147.36,634.59 L148.47,635.18 L149.59,635.77 L150.71,636.35 L151.83,636.93 L152.95,637.51 L154.07,638.09 L155.19,638.66 L156.31,639.22 L157.43,639.79 L158.54,640.35 L159.66,640.90 L160.78,641.46 L161.90,642.01 L163.02,642.55 L164.14,643.10 L165.26,643.64 L166.38,644.17 L167.50,644.71 L168.61,645.24 L169.73,645.76 L170.85,646.29 L171.97,646.81 L173.09,647.32 L174.21,647.84 L175.33,648.35 L176.45,648.85 L177.57,649.36 L178.69,649.86 L179.80,650.36 L180.92,650.85 L182.04,651.34 L183.16,651.83 L184.28,652.32 L185.40,652.80 L186.52,653.28 L187.64,653.76 L188.76,654.23 L189.87,654.71 L190.99,655.17 L192.11,655.64 L193.23,656.10 L194.35,656.56 L195.47,657.02 L196.59,657.48 L197.71,657.93 L198.83,658.38 L199.94,658.82 L201.06,659.27 L202.18,659.71 L203.30,660.15 L204.42,660.59 L205.54,661.02 L206.66,661.45 L207.78,661.88 L208.90,662.31 L210.02,662.73 L211.13,663.15 L212.25,663.57 L213.37,663.99 L214.49,664.40 L215.61,664.82 L216.73,665.23 L217.85,665.63 L218.97,666.04 L220.09,666.44 L221.20,666.84 L222.32,667.24 L223.44,667.64 L224.56,668.03 L225.68,668.42 L226.80,668.81 L227.92,669.20 L229.04,669.59 L230.16,669.97 L231.27,670.35 L232.39,670.73 L233.51,671.11 L234.63,671.48 L235.75,671.86 L236.87,672.23 L237.99,672.60 L239.11,672.96 L240.23,673.33 L241.35,673.69 L242.46,674.05 L243.58,674.41 L244.70,674.77 L245.82,675.13 L246.94,675.48 L248.06,675.83 L249.18,676.18 L250.30,676.53 L251.42,676.88 L252.53,677.22 L253.65,677.56 L254.77,677.90 L255.89,678.24 L257.01,678.58 L258.13,678.92 L259.25,679.25"/>
<path d="M229.22,617.25 L230.16,617.67 L231.27,618.16 L232.39,618.66 L233.51,619.15 L234.63,619.64 L235.75,620.13 L236.87,620.61 L237.99,621.09 L239.11,621.57 L240.23,622.05 L241.35,622.53 L242.46,623.00 L243.58,623.47 L244.70,623.93 L245.82,624.40 L246.94,624.86 L248.06,625.32 L249.18,625.78 L250.30,626.23 L251.42,626.69 L252.53,627.14 L253.65,627.58 L254.77,628.03 L255.89,628.47 L257.01,628.91 L258.13,629.35 L259.25,629.79"/>
</g>
<g clip-path="url(#c140495875371136)">
<text x="82.40" y="653.70" text-anchor="middle" class="l">300</text>
<text x="85.50" y="709.20" text-anchor="middle" class="l">250</text>
<text x="86.50" y="756.40" text-anchor="middle" class="l">200</text>
<text x="86.40" y="788.90" text-anchor="middle" class="l">150</text>
<text x="87.60" y="815.70" text-anchor="middle" class="l">100</text>
<text x="126.20" y="640.90" text-anchor="middle" class="l">350</text>
<text x="237.50" y="637.30" text-anchor="middle" class="l">400</text>
</g>
<rect x="320.90" y="613.10" width="220.00" height="219.35" fill="none" stroke="#858585" stroke-width="0.85"/>
<path d="M325.13,832.45v-1.9M325.13,613.10v1.9M336.26,832.45v-1.9M336.26,613.10v1.9M347.40,832.45v-1.9M347.40,613.10v1.9M358.53,832.45v-3.1M358.53,613.10v3.1M369.67,832.45v-1.9M369.67,613.10v1.9M380.80,832.45v-1.9M380.80,613.10v1.9M391.93,832.45v-1.9M391.93,613.10v1.9M403.07,832.45v-3.1M403.07,613.10v3.1M414.20,832.45v-1.9M414.20,613.10v1.9M425.33,832.45v-1.9M425.33,613.10v1.9M436.47,832.45v-1.9M436.47,613.10v1.9M447.60,832.45v-3.1M447.60,613.10v3.1M458.73,832.45v-1.9M458.73,613.10v1.9M469.87,832.45v-1.9M469.87,613.10v1.9M481.00,832.45v-1.9M481.00,613.10v1.9M492.13,832.45v-3.1M492.13,613.10v3.1M503.27,832.45v-1.9M503.27,613.10v1.9M514.40,832.45v-1.9M514.40,613.10v1.9M525.54,832.45v-1.9M525.54,613.10v1.9M536.67,832.45v-3.1M536.67,613.10v3.1M320.90,828.23h1.9M540.90,828.23h-1.9M320.90,817.13h1.9M540.90,817.13h-1.9M320.90,806.03h1.9M540.90,806.03h-1.9M320.90,794.93h1.9M540.90,794.93h-1.9M320.90,783.83h3.1M540.90,783.83h-3.1M320.90,772.73h1.9M540.90,772.73h-1.9M320.90,761.63h1.9M540.90,761.63h-1.9M320.90,750.53h1.9M540.90,750.53h-1.9M320.90,739.43h1.9M540.90,739.43h-1.9M320.90,728.33h3.1M540.90,728.33h-3.1M320.90,717.22h1.9M540.90,717.22h-1.9M320.90,706.12h1.9M540.90,706.12h-1.9M320.90,695.02h1.9M540.90,695.02h-1.9M320.90,683.92h1.9M540.90,683.92h-1.9M320.90,672.82h3.1M540.90,672.82h-3.1M320.90,661.72h1.9M540.90,661.72h-1.9M320.90,650.62h1.9M540.90,650.62h-1.9M320.90,639.52h1.9M540.90,639.52h-1.9M320.90,628.42h1.9M540.90,628.42h-1.9M320.90,617.32h3.1M540.90,617.32h-3.1" stroke="#858585" stroke-width="0.9" fill="none"/>
<text x="358.53" y="847.25" text-anchor="middle" class="t">2</text>
<text x="403.07" y="847.25" text-anchor="middle" class="t">4</text>
<text x="447.60" y="847.25" text-anchor="middle" class="t">6</text>
<text x="492.13" y="847.25" text-anchor="middle" class="t">8</text>
<text x="536.67" y="847.25" text-anchor="middle" class="t">10</text>
<text x="316.40" y="787.73" text-anchor="end" class="t">5</text>
<text x="316.40" y="732.23" text-anchor="end" class="t">10</text>
<text x="316.40" y="676.72" text-anchor="end" class="t">15</text>
<text x="316.40" y="621.22" text-anchor="end" class="t">20</text>
<text x="430.90" y="869.05" text-anchor="middle" class="ax"><tspan font-style="italic">α</tspan></text>
<text transform="translate(292.30,723.08) rotate(-90)" text-anchor="middle" class="ax">A</text>
<text x="392.80" y="607.40" class="ti" style="white-space:pre"><tspan font-style="italic">v</tspan><tspan dx="1.0">=0.3, </tspan><tspan font-style="italic" dx="0.5">G</tspan>=50</text>
<clipPath id="c140495875371008"><rect x="320.90" y="613.10" width="220.00" height="219.35"/></clipPath>
<g fill="none" stroke="#000" stroke-width="1.42" stroke-linecap="butt" stroke-linejoin="round">
<path d="M325.13,813.70 L326.24,813.07 L327.36,812.55 L328.47,812.10 L329.58,811.73 L330.70,811.41 L331.81,811.15 L332.92,810.92 L334.04,810.74 L335.15,810.58 L336.26,810.45 L337.38,810.35 L338.49,810.27 L339.60,810.20 L340.72,810.16 L341.83,810.12 L342.94,810.10 L344.06,810.10 L345.17,810.10 L346.28,810.11 L347.40,810.13 L348.51,810.15 L349.62,810.18 L350.74,810.22 L351.85,810.27 L352.96,810.31 L354.08,810.37 L355.19,810.42 L356.30,810.48 L357.42,810.54 L358.53,810.61 L359.64,810.67 L360.76,810.74 L361.87,810.81 L362.99,810.89 L364.10,810.96 L365.21,811.04 L366.33,811.11 L367.44,811.19 L368.55,811.27 L369.67,811.35 L370.78,811.43 L371.89,811.51 L373.01,811.59 L374.12,811.67 L375.23,811.76 L376.35,811.84 L377.46,811.92 L378.57,812.00 L379.69,812.09 L380.80,812.17 L381.91,812.25 L383.03,812.33 L384.14,812.42 L385.25,812.50 L386.37,812.58 L387.48,812.66 L388.59,812.75 L389.71,812.83 L390.82,812.91 L391.93,812.99 L393.05,813.07 L394.16,813.15 L395.27,813.23 L396.39,813.31 L397.50,813.39 L398.61,813.47 L399.73,813.55 L400.84,813.63 L401.95,813.71 L403.07,813.79 L404.18,813.86 L405.29,813.94 L406.41,814.02 L407.52,814.09 L408.63,814.17 L409.75,814.25 L410.86,814.32 L411.97,814.40 L413.09,814.47 L414.20,814.54 L415.31,814.62 L416.43,814.69 L417.54,814.76 L418.65,814.83 L419.77,814.91 L420.88,814.98 L421.99,815.05 L423.11,815.12 L424.22,815.19 L425.33,815.26 L426.45,815.33 L427.56,815.40 L428.67,815.46 L429.79,815.53 L430.90,815.60 L432.01,815.67 L433.13,815.73 L434.24,815.80 L435.35,815.87 L436.47,815.93 L437.58,816.00 L438.69,816.06 L439.81,816.12 L440.92,816.19 L442.03,816.25 L443.15,816.31 L444.26,816.38 L445.37,816.44 L446.49,816.50 L447.60,816.56 L448.71,816.62 L449.83,816.68 L450.94,816.74 L452.05,816.80 L453.17,816.86 L454.28,816.92 L455.39,816.98 L456.51,817.04 L457.62,817.10 L458.73,817.16 L459.85,817.21 L460.96,817.27 L462.07,817.33 L463.19,817.38 L464.30,817.44 L465.41,817.50 L466.53,817.55 L467.64,817.61 L468.75,817.66 L469.87,817.72 L470.98,817.77 L472.09,817.82 L473.21,817.88 L474.32,817.93 L475.43,817.98 L476.55,818.04 L477.66,818.09 L478.77,818.14 L479.89,818.19 L481.00,818.24 L482.11,818.29 L483.23,818.34 L484.34,818.39 L485.45,818.44 L486.57,818.49 L487.68,818.54 L488.79,818.59 L489.91,818.64 L491.02,818.69 L492.13,818.74 L493.25,818.79 L494.36,818.83 L495.47,818.88 L496.59,818.93 L497.70,818.98 L498.81,819.02 L499.93,819.07 L501.04,819.12 L502.16,819.16 L503.27,819.21 L504.38,819.25 L505.50,819.30 L506.61,819.34 L507.72,819.39 L508.84,819.43 L509.95,819.48 L511.06,819.52 L512.18,819.57 L513.29,819.61 L514.40,819.65 L515.52,819.69 L516.63,819.74 L517.74,819.78 L518.86,819.82 L519.97,819.87 L521.08,819.91 L522.20,819.95 L523.31,819.99 L524.42,820.03 L525.54,820.07 L526.65,820.11 L527.76,820.15 L528.88,820.19 L529.99,820.23 L531.10,820.27 L532.22,820.31 L533.33,820.35 L534.44,820.39 L535.56,820.43 L536.67,820.47"/>
<path d="M325.13,781.66 L326.24,780.25 L327.36,779.06 L328.47,778.06 L329.58,777.22 L330.70,776.51 L331.81,775.91 L332.92,775.41 L334.04,774.99 L335.15,774.64 L336.26,774.35 L337.38,774.12 L338.49,773.94 L339.60,773.79 L340.72,773.69 L341.83,773.61 L342.94,773.57 L344.06,773.55 L345.17,773.55 L346.28,773.58 L347.40,773.62 L348.51,773.68 L349.62,773.75 L350.74,773.84 L351.85,773.93 L352.96,774.04 L354.08,774.16 L355.19,774.28 L356.30,774.42 L357.42,774.55 L358.53,774.70 L359.64,774.85 L360.76,775.01 L361.87,775.17 L362.99,775.33 L364.10,775.50 L365.21,775.67 L366.33,775.84 L367.44,776.01 L368.55,776.19 L369.67,776.37 L370.78,776.55 L371.89,776.73 L373.01,776.92 L374.12,777.10 L375.23,777.28 L376.35,777.47 L377.46,777.66 L378.57,777.84 L379.69,778.03 L380.80,778.21 L381.91,778.40 L383.03,778.59 L384.14,778.77 L385.25,778.96 L386.37,779.14 L387.48,779.33 L388.59,779.51 L389.71,779.70 L390.82,779.88 L391.93,780.06 L393.05,780.25 L394.16,780.43 L395.27,780.61 L396.39,780.79 L397.50,780.97 L398.61,781.15 L399.73,781.33 L400.84,781.50 L401.95,781.68 L403.07,781.85 L404.18,782.03 L405.29,782.20 L406.41,782.38 L407.52,782.55 L408.63,782.72 L409.75,782.89 L410.86,783.06 L411.97,783.22 L413.09,783.39 L414.20,783.56 L415.31,783.72 L416.43,783.89 L417.54,784.05 L418.65,784.21 L419.77,784.37 L420.88,784.53 L421.99,784.69 L423.11,784.85 L424.22,785.01 L425.33,785.17 L426.45,785.32 L427.56,785.48 L428.67,785.63 L429.79,785.78 L430.90,785.93 L432.01,786.08 L433.13,786.23 L434.24,786.38 L435.35,786.53 L436.47,786.68 L437.58,786.83 L438.69,786.97 L439.81,787.11 L440.92,787.26 L442.03,787.40 L443.15,787.54 L444.26,787.68 L445.37,787.82 L446.49,787.96 L447.60,788.10 L448.71,788.24 L449.83,788.37 L450.94,788.51 L452.05,788.65 L453.17,788.78 L454.28,788.91 L455.39,789.05 L456.51,789.18 L457.62,789.31 L458.73,789.44 L459.85,789.57 L460.96,789.70 L462.07,789.82 L463.19,789.95 L464.30,790.08 L465.41,790.20 L466.53,790.33 L467.64,790.45 L468.75,790.57 L469.87,790.69 L470.98,790.82 L472.09,790.94 L473.21,791.06 L474.32,791.18 L475.43,791.30 L476.55,791.41 L477.66,791.53 L478.77,791.65 L479.89,791.76 L481.00,791.88 L482.11,791.99 L483.23,792.11 L484.34,792.22 L485.45,792.33 L486.57,792.45 L487.68,792.56 L488.79,792.67 L489.91,792.78 L491.02,792.89 L492.13,793.00 L493.25,793.11 L494.36,793.21 L495.47,793.32 L496.59,793.43 L497.70,793.53 L498.81,793.64 L499.93,793.74 L501.04,793.85 L502.16,793.95 L503.27,794.05 L504.38,794.15 L505.50,794.26 L506.61,794.36 L507.72,794.46 L508.84,794.56 L509.95,794.66 L511.06,794.76 L512.18,794.86 L513.29,794.95 L514.40,795.05 L515.52,795.15 L516.63,795.24 L517.74,795.34 L518.86,795.44 L519.97,795.53 L521.08,795.63 L522.20,795.72 L523.31,795.81 L524.42,795.91 L525.54,796.00 L526.65,796.09 L527.76,796.18 L528.88,796.27 L529.99,796.36 L531.10,796.45 L532.22,796.54 L533.33,796.63 L534.44,796.72 L535.56,796.81 L536.67,796.90"/>
<path d="M325.13,736.80 L326.24,734.29 L327.36,732.18 L328.47,730.41 L329.58,728.91 L330.70,727.65 L331.81,726.58 L332.92,725.69 L334.04,724.94 L335.15,724.33 L336.26,723.82 L337.38,723.40 L338.49,723.08 L339.60,722.82 L340.72,722.63 L341.83,722.50 L342.94,722.42 L344.06,722.39 L345.17,722.39 L346.28,722.44 L347.40,722.51 L348.51,722.61 L349.62,722.74 L350.74,722.89 L351.85,723.07 L352.96,723.26 L354.08,723.47 L355.19,723.69 L356.30,723.92 L357.42,724.17 L358.53,724.43 L359.64,724.70 L360.76,724.97 L361.87,725.26 L362.99,725.55 L364.10,725.85 L365.21,726.15 L366.33,726.46 L367.44,726.77 L368.55,727.08 L369.67,727.40 L370.78,727.72 L371.89,728.04 L373.01,728.37 L374.12,728.70 L375.23,729.02 L376.35,729.35 L377.46,729.68 L378.57,730.01 L379.69,730.35 L380.80,730.68 L381.91,731.01 L383.03,731.34 L384.14,731.67 L385.25,732.00 L386.37,732.33 L387.48,732.66 L388.59,732.99 L389.71,733.31 L390.82,733.64 L391.93,733.97 L393.05,734.29 L394.16,734.61 L395.27,734.94 L396.39,735.26 L397.50,735.58 L398.61,735.89 L399.73,736.21 L400.84,736.52 L401.95,736.84 L403.07,737.15 L404.18,737.46 L405.29,737.77 L406.41,738.07 L407.52,738.38 L408.63,738.68 L409.75,738.99 L410.86,739.29 L411.97,739.58 L413.09,739.88 L414.20,740.18 L415.31,740.47 L416.43,740.76 L417.54,741.05 L418.65,741.34 L419.77,741.63 L420.88,741.91 L421.99,742.20 L423.11,742.48 L424.22,742.76 L425.33,743.04 L426.45,743.31 L427.56,743.59 L428.67,743.86 L429.79,744.13 L430.90,744.40 L432.01,744.67 L433.13,744.94 L434.24,745.20 L435.35,745.46 L436.47,745.73 L437.58,745.99 L438.69,746.24 L439.81,746.50 L440.92,746.76 L442.03,747.01 L443.15,747.26 L444.26,747.51 L445.37,747.76 L446.49,748.01 L447.60,748.25 L448.71,748.50 L449.83,748.74 L450.94,748.98 L452.05,749.22 L453.17,749.46 L454.28,749.70 L455.39,749.93 L456.51,750.17 L457.62,750.40 L458.73,750.63 L459.85,750.86 L460.96,751.09 L462.07,751.32 L463.19,751.54 L464.30,751.76 L465.41,751.99 L466.53,752.21 L467.64,752.43 L468.75,752.65 L469.87,752.87 L470.98,753.08 L472.09,753.30 L473.21,753.51 L474.32,753.72 L475.43,753.93 L476.55,754.14 L477.66,754.35 L478.77,754.56 L479.89,754.77 L481.00,754.97 L482.11,755.18 L483.23,755.38 L484.34,755.58 L485.45,755.78 L486.57,755.98 L487.68,756.18 L488.79,756.37 L489.91,756.57 L491.02,756.76 L492.13,756.96 L493.25,757.15 L494.36,757.34 L495.47,757.53 L496.59,757.72 L497.70,757.91 L498.81,758.10 L499.93,758.28 L501.04,758.47 L502.16,758.65 L503.27,758.83 L504.38,759.02 L505.50,759.20 L506.61,759.38 L507.72,759.56 L508.84,759.73 L509.95,759.91 L511.06,760.09 L512.18,760.26 L513.29,760.44 L514.40,760.61 L515.52,760.78 L516.63,760.95 L517.74,761.12 L518.86,761.29 L519.97,761.46 L521.08,761.63 L522.20,761.80 L523.31,761.96 L524.42,762.13 L525.54,762.29 L526.65,762.46 L527.76,762.62 L528.88,762.78 L529.99,762.94 L531.10,763.10 L532.22,763.26 L533.33,763.42 L534.44,763.58 L535.56,763.73 L536.67,763.89"/>
<path d="M325.13,679.12 L326.24,675.20 L327.36,671.91 L328.47,669.14 L329.58,666.80 L330.70,664.83 L331.81,663.16 L332.92,661.77 L334.04,660.60 L335.15,659.63 L336.26,658.84 L337.38,658.19 L338.49,657.68 L339.60,657.28 L340.72,656.99 L341.83,656.78 L342.94,656.66 L344.06,656.61 L345.17,656.62 L346.28,656.68 L347.40,656.80 L348.51,656.96 L349.62,657.16 L350.74,657.40 L351.85,657.67 L352.96,657.97 L354.08,658.29 L355.19,658.64 L356.30,659.01 L357.42,659.39 L358.53,659.80 L359.64,660.22 L360.76,660.65 L361.87,661.09 L362.99,661.55 L364.10,662.01 L365.21,662.48 L366.33,662.96 L367.44,663.45 L368.55,663.94 L369.67,664.44 L370.78,664.94 L371.89,665.45 L373.01,665.95 L374.12,666.46 L375.23,666.98 L376.35,667.49 L377.46,668.01 L378.57,668.52 L379.69,669.04 L380.80,669.56 L381.91,670.08 L383.03,670.59 L384.14,671.11 L385.25,671.63 L386.37,672.14 L387.48,672.66 L388.59,673.17 L389.71,673.68 L390.82,674.19 L391.93,674.70 L393.05,675.20 L394.16,675.71 L395.27,676.21 L396.39,676.71 L397.50,677.21 L398.61,677.71 L399.73,678.20 L400.84,678.69 L401.95,679.18 L403.07,679.67 L404.18,680.16 L405.29,680.64 L406.41,681.12 L407.52,681.59 L408.63,682.07 L409.75,682.54 L410.86,683.01 L411.97,683.48 L413.09,683.94 L414.20,684.40 L415.31,684.86 L416.43,685.32 L417.54,685.77 L418.65,686.22 L419.77,686.67 L420.88,687.11 L421.99,687.56 L423.11,688.00 L424.22,688.43 L425.33,688.87 L426.45,689.30 L427.56,689.73 L428.67,690.16 L429.79,690.58 L430.90,691.00 L432.01,691.42 L433.13,691.84 L434.24,692.25 L435.35,692.66 L436.47,693.07 L437.58,693.48 L438.69,693.88 L439.81,694.28 L440.92,694.68 L442.03,695.08 L443.15,695.47 L444.26,695.86 L445.37,696.25 L446.49,696.64 L447.60,697.02 L448.71,697.40 L449.83,697.78 L450.94,698.16 L452.05,698.54 L453.17,698.91 L454.28,699.28 L455.39,699.65 L456.51,700.01 L457.62,700.37 L458.73,700.74 L459.85,701.09 L460.96,701.45 L462.07,701.81 L463.19,702.16 L464.30,702.51 L465.41,702.86 L466.53,703.20 L467.64,703.55 L468.75,703.89 L469.87,704.23 L470.98,704.57 L472.09,704.90 L473.21,705.24 L474.32,705.57 L475.43,705.90 L476.55,706.23 L477.66,706.55 L478.77,706.88 L479.89,707.20 L481.00,707.52 L482.11,707.84 L483.23,708.15 L484.34,708.47 L485.45,708.78 L486.57,709.09 L487.68,709.40 L488.79,709.71 L489.91,710.02 L491.02,710.32 L492.13,710.62 L493.25,710.92 L494.36,711.22 L495.47,711.52 L496.59,711.81 L497.70,712.11 L498.81,712.40 L499.93,712.69 L501.04,712.98 L502.16,713.27 L503.27,713.55 L504.38,713.84 L505.50,714.12 L506.61,714.40 L507.72,714.68 L508.84,714.96 L509.95,715.24 L511.06,715.51 L512.18,715.79 L513.29,716.06 L514.40,716.33 L515.52,716.60 L516.63,716.87 L517.74,717.13 L518.86,717.40 L519.97,717.66 L521.08,717.92 L522.20,718.18 L523.31,718.44 L524.42,718.70 L525.54,718.96 L526.65,719.21 L527.76,719.47 L528.88,719.72 L529.99,719.97 L531.10,720.22 L532.22,720.47 L533.33,720.72 L534.44,720.97 L535.56,721.21 L536.67,721.45"/>
<path d="M416.03,617.32 L417.09,617.94 L418.21,618.59 L419.32,619.24 L420.43,619.88 L421.55,620.52 L422.66,621.16 L423.77,621.79 L424.89,622.42 L426.00,623.04 L427.11,623.66 L428.23,624.28 L429.34,624.89 L430.45,625.50 L431.57,626.10 L432.68,626.70 L433.79,627.30 L434.91,627.89 L436.02,628.48 L437.13,629.07 L438.25,629.65 L439.36,630.23 L440.47,630.81 L441.59,631.38 L442.70,631.95 L443.81,632.51 L444.93,633.07 L446.04,633.63 L447.16,634.19 L448.27,634.74 L449.38,635.28 L450.50,635.83 L451.61,636.37 L452.72,636.91 L453.84,637.44 L454.95,637.97 L456.06,638.50 L457.18,639.02 L458.29,639.55 L459.40,640.06 L460.52,640.58 L461.63,641.09 L462.74,641.60 L463.86,642.10 L464.97,642.61 L466.08,643.11 L467.20,643.60 L468.31,644.10 L469.42,644.59 L470.54,645.07 L471.65,645.56 L472.76,646.04 L473.88,646.52 L474.99,647.00 L476.10,647.47 L477.22,647.94 L478.33,648.41 L479.44,648.87 L480.56,649.34 L481.67,649.80 L482.78,650.25 L483.90,650.71 L485.01,651.16 L486.12,651.61 L487.24,652.05 L488.35,652.50 L489.46,652.94 L490.58,653.38 L491.69,653.82 L492.80,654.25 L493.92,654.68 L495.03,655.11 L496.14,655.54 L497.26,655.96 L498.37,656.38 L499.48,656.80 L500.60,657.22 L501.71,657.64 L502.82,658.05 L503.94,658.46 L505.05,658.87 L506.16,659.27 L507.28,659.68 L508.39,660.08 L509.50,660.48 L510.62,660.87 L511.73,661.27 L512.84,661.66 L513.96,662.05 L515.07,662.44 L516.18,662.83 L517.30,663.21 L518.41,663.59 L519.52,663.97 L520.64,664.35 L521.75,664.73 L522.86,665.10 L523.98,665.48 L525.09,665.85 L526.20,666.21 L527.32,666.58 L528.43,666.95 L529.54,667.31 L530.66,667.67 L531.77,668.03 L532.88,668.39 L534.00,668.74 L535.11,669.10 L536.22,669.45 L536.67,669.59"/>
</g>
<g clip-path="url(#c140495875371008)">
<text x="377.00" y="657.70" text-anchor="middle" class="l">500</text>
<text x="370.00" y="721.20" text-anchor="middle" class="l">400</text>
<text x="366.10" y="767.80" text-anchor="middle" class="l">300</text>
<text x="366.00" y="806.50" text-anchor="middle" class="l">200</text>
<text x="440.50" y="614.10" text-anchor="middle" class="l">600</text>
</g>
</svg>
</body></html>
